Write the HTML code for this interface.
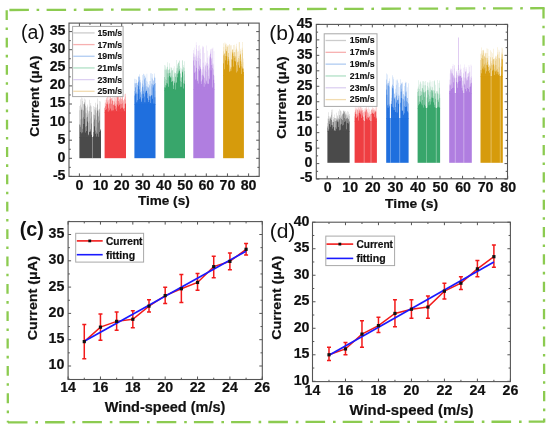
<!DOCTYPE html>
<html><head><meta charset="utf-8"><style>
html,body{margin:0;padding:0;background:#fff;}
body{width:550px;height:428px;overflow:hidden;}
svg{display:block;font-family:"Liberation Sans", sans-serif;will-change:transform;filter:blur(0.3px);}
</style></head><body>
<svg width="550" height="428" viewBox="0 0 550 428" fill="#111">
<defs></defs>
<rect width="550" height="428" fill="#fff"/>
<line x1="9.1" y1="10.0" x2="544.6" y2="8.2" stroke="#8ccb50" stroke-width="2.3" stroke-dasharray="19.5 7.7 2.6 7.4" stroke-dashoffset="-0.3"/>
<line x1="543.5" y1="8.2" x2="544.2" y2="422.6" stroke="#8ccb50" stroke-width="2.3" stroke-dasharray="10.2 7.3 2.6 7.25"/>
<line x1="6.7" y1="10.3" x2="7.9" y2="422.6" stroke="#8ccb50" stroke-width="2.3" stroke-dasharray="9.8 7.4 2.6 7.56"/>
<line x1="7.9" y1="422.3" x2="544.2" y2="421.7" stroke="#8ccb50" stroke-width="2.3" stroke-dasharray="19.6 7.9 2.6 7.1"/>
<rect x="79.4" y="137" width="21.6" height="21.2" fill="#4a4a4a"/>
<path d="M79.4 124.51h0.33V105.97h-0.33ZM79.73 124.16h0.33V110.27h-0.33ZM80.06 124.84h0.33V99.2h-0.33ZM80.4 126.75h0.33V104.78h-0.33ZM80.73 131.95h0.33V119.24h-0.33ZM81.06 108.52h0.33V97.6h-0.33ZM81.39 109.92h0.33V106.67h-0.33ZM81.73 133.14h0.33V118.72h-0.33ZM82.06 118.4h0.33V100.91h-0.33ZM82.39 128.63h0.33V109.42h-0.33ZM82.72 132.3h0.33V98.32h-0.33ZM83.06 110.84h0.33V104.07h-0.33ZM83.39 117.13h0.33V109.86h-0.33ZM83.72 124.12h0.33V104.28h-0.33ZM84.05 104.37h0.33V102.15h-0.33ZM84.38 102.61h0.33V98.47h-0.33ZM84.72 119.06h0.33V113.65h-0.33ZM85.05 105.69h0.33V99.4h-0.33ZM85.38 132.58h0.33V112.39h-0.33ZM85.71 126.7h0.33V108.29h-0.33ZM86.05 117.47h0.33V113.35h-0.33ZM86.38 131.08h0.33V107.6h-0.33ZM87.04 116.98h0.33V104.42h-0.33ZM87.38 121.58h0.33V115.39h-0.33ZM87.71 110.13h0.33V106.58h-0.33ZM88.04 134.28h0.33V111.5h-0.33ZM88.7 122.75h0.33V113.45h-0.33ZM89.04 131.8h0.33V121.34h-0.33ZM89.37 131.81h0.33V99.86h-0.33ZM89.7 110.92h0.33V106.66h-0.33ZM90.37 129.33h0.33V118.52h-0.33ZM90.7 105.51h0.33V103.05h-0.33ZM91.03 134.77h0.33V111.65h-0.33ZM91.36 112.08h0.33V106.54h-0.33ZM91.7 123.4h0.33V116.45h-0.33ZM93.02 136.23h0.33V121.81h-0.33ZM93.69 114.46h0.33V105.92h-0.33ZM94.02 126.23h0.33V118.09h-0.33ZM94.35 115h0.33V109.37h-0.33ZM94.69 119.41h0.33V106.91h-0.33ZM95.02 133.8h0.33V102.83h-0.33ZM95.35 130.39h0.33V115.42h-0.33ZM95.68 110.13h0.33V107.4h-0.33ZM96.02 136.39h0.33V127.42h-0.33ZM96.35 119.82h0.33V107.47h-0.33ZM96.68 132.6h0.33V112.76h-0.33ZM97.01 109.74h0.33V104.81h-0.33ZM97.34 133.69h0.33V103.66h-0.33ZM97.68 110.79h0.33V98.38h-0.33ZM98.01 116.81h0.33V109.59h-0.33ZM98.34 136.65h0.33V115.85h-0.33ZM98.67 122.54h0.33V110.68h-0.33ZM99.01 132.03h0.33V100.98h-0.33ZM99.34 120.49h0.33V108.64h-0.33ZM99.67 112.62h0.33V109.4h-0.33ZM100.67 129.28h0.33V101.45h-0.33Z" fill="#4a4a4a" opacity="0.4"/>
<path d="M79.4 137.5h0.33V124.51h-0.33ZM79.73 137.5h0.33V124.16h-0.33ZM80.06 137.5h0.33V124.84h-0.33ZM80.4 137.5h0.33V126.75h-0.33ZM80.73 137.5h0.33V131.95h-0.33ZM81.06 137.5h0.33V108.52h-0.33ZM81.39 137.5h0.33V109.92h-0.33ZM81.73 137.5h0.33V133.14h-0.33ZM82.06 137.5h0.33V118.4h-0.33ZM82.39 137.5h0.33V128.63h-0.33ZM82.72 137.5h0.33V132.3h-0.33ZM83.06 137.5h0.33V110.84h-0.33ZM83.39 137.5h0.33V117.13h-0.33ZM83.72 137.5h0.33V124.12h-0.33ZM84.05 137.5h0.33V104.37h-0.33ZM84.38 137.5h0.33V102.61h-0.33ZM84.72 137.5h0.33V119.06h-0.33ZM85.05 137.5h0.33V105.69h-0.33ZM85.38 137.5h0.33V132.58h-0.33ZM85.71 137.5h0.33V126.7h-0.33ZM86.05 137.5h0.33V117.47h-0.33ZM86.38 137.5h0.33V131.08h-0.33ZM86.71 137.5h0.33V125.9h-0.33ZM87.04 137.5h0.33V116.98h-0.33ZM87.38 137.5h0.33V121.58h-0.33ZM87.71 137.5h0.33V110.13h-0.33ZM88.04 137.5h0.33V134.28h-0.33ZM88.37 137.5h0.33V135.24h-0.33ZM88.7 137.5h0.33V122.75h-0.33ZM89.04 137.5h0.33V131.8h-0.33ZM89.37 137.5h0.33V131.81h-0.33ZM89.7 137.5h0.33V110.92h-0.33ZM90.03 137.5h0.33V131.52h-0.33ZM90.37 137.5h0.33V129.33h-0.33ZM90.7 137.5h0.33V105.51h-0.33ZM91.03 137.5h0.33V134.77h-0.33ZM91.36 137.5h0.33V112.08h-0.33ZM91.7 137.5h0.33V123.4h-0.33ZM93.02 137.5h0.33V136.23h-0.33ZM93.36 137.5h0.33V131.93h-0.33ZM93.69 137.5h0.33V114.46h-0.33ZM94.02 137.5h0.33V126.23h-0.33ZM94.35 137.5h0.33V115h-0.33ZM94.69 137.5h0.33V119.41h-0.33ZM95.02 137.5h0.33V133.8h-0.33ZM95.35 137.5h0.33V130.39h-0.33ZM95.68 137.5h0.33V110.13h-0.33ZM96.02 137.5h0.33V136.39h-0.33ZM96.35 137.5h0.33V119.82h-0.33ZM96.68 137.5h0.33V132.6h-0.33ZM97.01 137.5h0.33V109.74h-0.33ZM97.34 137.5h0.33V133.69h-0.33ZM97.68 137.5h0.33V110.79h-0.33ZM98.01 137.5h0.33V116.81h-0.33ZM98.34 137.5h0.33V136.65h-0.33ZM98.67 137.5h0.33V122.54h-0.33ZM99.01 137.5h0.33V132.03h-0.33ZM99.34 137.5h0.33V120.49h-0.33ZM99.67 137.5h0.33V112.62h-0.33ZM100 137.5h0.33V129.56h-0.33ZM100.34 137.5h0.33V130.75h-0.33ZM100.67 137.5h0.33V129.28h-0.33Z" fill="#4a4a4a"/>
<line x1="92.5" y1="131" x2="92.5" y2="158.2" stroke="#fff" stroke-width="0.7" opacity="0.5"/>
<rect x="104.6" y="112" width="21.4" height="46.2" fill="#ef3e42"/>
<path d="M104.93 102.88h0.33V99.84h-0.33ZM105.27 106.3h0.33V102.32h-0.33ZM105.6 109.96h0.33V105.99h-0.33ZM105.94 104.12h0.33V99.89h-0.33ZM106.27 103.5h0.33V98.6h-0.33ZM106.61 109.19h0.33V98.04h-0.33ZM106.94 96.92h0.33V95.01h-0.33ZM107.27 104.21h0.33V101.77h-0.33ZM107.61 102.47h0.33V100.35h-0.33ZM107.94 111.61h0.33V106.74h-0.33ZM108.28 108.34h0.33V104.31h-0.33ZM108.61 100.23h0.33V95.12h-0.33ZM109.28 99.16h0.33V94.49h-0.33ZM109.62 110.25h0.33V103.63h-0.33ZM109.95 98.72h0.33V97.15h-0.33ZM110.28 99.32h0.33V93.73h-0.33ZM110.62 108.43h0.33V96.81h-0.33ZM111.62 110.4h0.33V98.3h-0.33ZM111.96 110.62h0.33V95.74h-0.33ZM112.29 100.27h0.33V98h-0.33ZM112.96 110.24h0.33V94.39h-0.33ZM113.63 104.84h0.33V101.08h-0.33ZM113.96 103.99h0.33V97.83h-0.33ZM114.3 101.24h0.33V95.26h-0.33ZM114.63 105.51h0.33V101.69h-0.33ZM114.97 109.35h0.33V103.1h-0.33ZM115.3 105.53h0.33V96.8h-0.33ZM115.63 105.97h0.33V98.62h-0.33ZM115.97 104.31h0.33V96.38h-0.33ZM116.3 107.57h0.33V100.64h-0.33ZM116.64 110.97h0.33V92.16h-0.33ZM116.97 104.48h0.33V100.59h-0.33ZM117.31 97.23h0.33V94.85h-0.33ZM117.64 96.02h0.33V94.37h-0.33ZM117.98 106.15h0.33V102.71h-0.33ZM118.31 96.91h0.33V93.67h-0.33ZM118.64 100.96h0.33V92.25h-0.33ZM118.98 104.96h0.33V101.79h-0.33ZM119.31 103.48h0.33V100.12h-0.33ZM119.65 98.92h0.33V96.91h-0.33ZM119.98 108.7h0.33V99.35h-0.33ZM120.32 98.07h0.33V96.82h-0.33ZM120.65 103.75h0.33V93.12h-0.33ZM120.98 107.65h0.33V93.21h-0.33ZM121.65 104.03h0.33V101.27h-0.33ZM121.99 103.37h0.33V92.09h-0.33ZM122.32 98.46h0.33V96.92h-0.33ZM122.66 107.45h0.33V92.25h-0.33ZM122.99 108.2h0.33V101.82h-0.33ZM123.99 111.08h0.33V94.28h-0.33ZM124.33 108.05h0.33V103.98h-0.33ZM125 99.76h0.33V93.95h-0.33ZM125.33 103.48h0.33V93.44h-0.33ZM125.67 103.41h0.33V96.41h-0.33Z" fill="#ef3e42" opacity="0.4"/>
<path d="M104.6 112.5h0.33V107.87h-0.33ZM104.93 112.5h0.33V102.88h-0.33ZM105.27 112.5h0.33V106.3h-0.33ZM105.6 112.5h0.33V109.96h-0.33ZM105.94 112.5h0.33V104.12h-0.33ZM106.27 112.5h0.33V103.5h-0.33ZM106.61 112.5h0.33V109.19h-0.33ZM106.94 112.5h0.33V96.92h-0.33ZM107.27 112.5h0.33V104.21h-0.33ZM107.61 112.5h0.33V102.47h-0.33ZM107.94 112.5h0.33V111.61h-0.33ZM108.28 112.5h0.33V108.34h-0.33ZM108.61 112.5h0.33V100.23h-0.33ZM108.95 112.5h0.33V103.38h-0.33ZM109.28 112.5h0.33V99.16h-0.33ZM109.62 112.5h0.33V110.25h-0.33ZM109.95 112.5h0.33V98.72h-0.33ZM110.28 112.5h0.33V99.32h-0.33ZM110.62 112.5h0.33V108.43h-0.33ZM110.95 112.5h0.33V103.75h-0.33ZM111.29 112.5h0.33V98.2h-0.33ZM111.62 112.5h0.33V110.4h-0.33ZM111.96 112.5h0.33V110.62h-0.33ZM112.29 112.5h0.33V100.27h-0.33ZM112.62 112.5h0.33V100.69h-0.33ZM112.96 112.5h0.33V110.24h-0.33ZM113.29 112.5h0.33V104.73h-0.33ZM113.63 112.5h0.33V104.84h-0.33ZM113.96 112.5h0.33V103.99h-0.33ZM114.3 112.5h0.33V101.24h-0.33ZM114.63 112.5h0.33V105.51h-0.33ZM114.97 112.5h0.33V109.35h-0.33ZM115.3 112.5h0.33V105.53h-0.33ZM115.63 112.5h0.33V105.97h-0.33ZM115.97 112.5h0.33V104.31h-0.33ZM116.3 112.5h0.33V107.57h-0.33ZM116.64 112.5h0.33V110.97h-0.33ZM116.97 112.5h0.33V104.48h-0.33ZM117.31 112.5h0.33V97.23h-0.33ZM117.64 112.5h0.33V96.02h-0.33ZM117.98 112.5h0.33V106.15h-0.33ZM118.31 112.5h0.33V96.91h-0.33ZM118.64 112.5h0.33V100.96h-0.33ZM118.98 112.5h0.33V104.96h-0.33ZM119.31 112.5h0.33V103.48h-0.33ZM119.65 112.5h0.33V98.92h-0.33ZM119.98 112.5h0.33V108.7h-0.33ZM120.32 112.5h0.33V98.07h-0.33ZM120.65 112.5h0.33V103.75h-0.33ZM120.98 112.5h0.33V107.65h-0.33ZM121.32 112.5h0.33V98.97h-0.33ZM121.65 112.5h0.33V104.03h-0.33ZM121.99 112.5h0.33V103.37h-0.33ZM122.32 112.5h0.33V98.46h-0.33ZM122.66 112.5h0.33V107.45h-0.33ZM122.99 112.5h0.33V108.2h-0.33ZM123.33 112.5h0.33V109.15h-0.33ZM123.66 112.5h0.33V100.16h-0.33ZM123.99 112.5h0.33V111.08h-0.33ZM124.33 112.5h0.33V108.05h-0.33ZM124.66 112.5h0.33V98.63h-0.33ZM125 112.5h0.33V99.76h-0.33ZM125.33 112.5h0.33V103.48h-0.33ZM125.67 112.5h0.33V103.41h-0.33Z" fill="#ef3e42"/>
<rect x="134.4" y="104" width="21.1" height="54.2" fill="#1f6fde"/>
<path d="M134.4 90.89h0.33V78.7h-0.33ZM134.73 95.44h0.33V83.3h-0.33ZM135.07 93.44h0.33V83.23h-0.33ZM135.4 87.3h0.33V83.21h-0.33ZM135.74 87.2h0.33V78.96h-0.33ZM136.07 93.52h0.33V83.07h-0.33ZM136.41 91.95h0.33V79.84h-0.33ZM136.74 102.27h0.33V83.07h-0.33ZM137.08 89.26h0.33V82.74h-0.33ZM137.41 100.21h0.33V84.93h-0.33ZM137.75 93.81h0.33V84.78h-0.33ZM138.08 82.29h0.33V76.63h-0.33ZM138.42 81.24h0.33V76.33h-0.33ZM138.75 86.28h0.33V76.82h-0.33ZM139.09 80.26h0.33V76.54h-0.33ZM139.42 89.2h0.33V74.19h-0.33ZM139.76 98.91h0.33V77.25h-0.33ZM140.09 92.3h0.33V79.69h-0.33ZM140.43 97.3h0.33V81.95h-0.33ZM140.76 92.28h0.33V83.3h-0.33ZM141.1 101.92h0.33V94.79h-0.33ZM141.43 100.52h0.33V91.07h-0.33ZM141.77 93.88h0.33V88.34h-0.33ZM142.1 86.86h0.33V80.57h-0.33ZM142.44 83.42h0.33V74.89h-0.33ZM142.77 98.26h0.33V91.79h-0.33ZM143.11 93.67h0.33V73.8h-0.33ZM143.44 90.77h0.33V85.15h-0.33ZM143.78 87.36h0.33V74.32h-0.33ZM144.11 78.76h0.33V76.1h-0.33ZM144.45 96.44h0.33V80.12h-0.33ZM144.78 102.26h0.33V74.74h-0.33ZM145.12 92.42h0.33V83.34h-0.33ZM145.45 77.93h0.33V76.75h-0.33ZM145.79 90.94h0.33V86.61h-0.33ZM146.12 89.46h0.33V80.71h-0.33ZM146.79 85.95h0.33V73.63h-0.33ZM147.13 93.32h0.33V81.73h-0.33ZM148.13 102.09h0.33V95.48h-0.33ZM148.47 87.61h0.33V83.99h-0.33ZM149.14 85.35h0.33V80.94h-0.33ZM149.81 94.18h0.33V89.34h-0.33ZM150.14 96.56h0.33V80.98h-0.33ZM150.48 102.91h0.33V73.22h-0.33ZM151.15 83.4h0.33V73.35h-0.33ZM151.48 95.11h0.33V86.37h-0.33ZM151.82 95.3h0.33V77.76h-0.33ZM152.15 98.74h0.33V78.75h-0.33ZM152.49 84.25h0.33V74.12h-0.33ZM152.82 87.54h0.33V84.34h-0.33ZM153.83 103.45h0.33V94.87h-0.33ZM154.16 84.08h0.33V76.79h-0.33ZM154.5 78.02h0.33V73.46h-0.33ZM154.83 97.32h0.33V91.09h-0.33ZM155.17 82.95h0.33V77.83h-0.33Z" fill="#1f6fde" opacity="0.4"/>
<path d="M134.4 104.5h0.33V90.89h-0.33ZM134.73 104.5h0.33V95.44h-0.33ZM135.07 104.5h0.33V93.44h-0.33ZM135.4 104.5h0.33V87.3h-0.33ZM135.74 104.5h0.33V87.2h-0.33ZM136.07 104.5h0.33V93.52h-0.33ZM136.41 104.5h0.33V91.95h-0.33ZM136.74 104.5h0.33V102.27h-0.33ZM137.08 104.5h0.33V89.26h-0.33ZM137.41 104.5h0.33V100.21h-0.33ZM137.75 104.5h0.33V93.81h-0.33ZM138.08 104.5h0.33V82.29h-0.33ZM138.42 104.5h0.33V81.24h-0.33ZM138.75 104.5h0.33V86.28h-0.33ZM139.09 104.5h0.33V80.26h-0.33ZM139.42 104.5h0.33V89.2h-0.33ZM139.76 104.5h0.33V98.91h-0.33ZM140.09 104.5h0.33V92.3h-0.33ZM140.43 104.5h0.33V97.3h-0.33ZM140.76 104.5h0.33V92.28h-0.33ZM141.1 104.5h0.33V101.92h-0.33ZM141.43 104.5h0.33V100.52h-0.33ZM141.77 104.5h0.33V93.88h-0.33ZM142.1 104.5h0.33V86.86h-0.33ZM142.44 104.5h0.33V83.42h-0.33ZM142.77 104.5h0.33V98.26h-0.33ZM143.11 104.5h0.33V93.67h-0.33ZM143.44 104.5h0.33V90.77h-0.33ZM143.78 104.5h0.33V87.36h-0.33ZM144.11 104.5h0.33V78.76h-0.33ZM144.45 104.5h0.33V96.44h-0.33ZM144.78 104.5h0.33V102.26h-0.33ZM145.12 104.5h0.33V92.42h-0.33ZM145.45 104.5h0.33V77.93h-0.33ZM145.79 104.5h0.33V90.94h-0.33ZM146.12 104.5h0.33V89.46h-0.33ZM146.46 104.5h0.33V90.93h-0.33ZM146.79 104.5h0.33V85.95h-0.33ZM147.13 104.5h0.33V93.32h-0.33ZM147.46 104.5h0.33V98.17h-0.33ZM147.8 104.5h0.33V87.28h-0.33ZM148.13 104.5h0.33V102.09h-0.33ZM148.47 104.5h0.33V87.61h-0.33ZM148.8 104.5h0.33V100.03h-0.33ZM149.14 104.5h0.33V85.35h-0.33ZM149.47 104.5h0.33V96.34h-0.33ZM149.81 104.5h0.33V94.18h-0.33ZM150.14 104.5h0.33V96.56h-0.33ZM150.48 104.5h0.33V102.91h-0.33ZM150.81 104.5h0.33V95.91h-0.33ZM151.15 104.5h0.33V83.4h-0.33ZM151.48 104.5h0.33V95.11h-0.33ZM151.82 104.5h0.33V95.3h-0.33ZM152.15 104.5h0.33V98.74h-0.33ZM152.49 104.5h0.33V84.25h-0.33ZM152.82 104.5h0.33V87.54h-0.33ZM153.16 104.5h0.33V80.46h-0.33ZM153.49 104.5h0.33V85.33h-0.33ZM153.83 104.5h0.33V103.45h-0.33ZM154.16 104.5h0.33V84.08h-0.33ZM154.5 104.5h0.33V78.02h-0.33ZM154.83 104.5h0.33V97.32h-0.33ZM155.17 104.5h0.33V82.95h-0.33Z" fill="#1f6fde"/>
<rect x="164.2" y="90" width="20.8" height="68.2" fill="#38a66b"/>
<path d="M164.2 77.12h0.34V65.07h-0.34ZM164.54 87.37h0.34V80.96h-0.34ZM165.21 87.58h0.34V65.44h-0.34ZM165.54 84.89h0.34V79h-0.34ZM165.88 85.47h0.34V67.58h-0.34ZM166.21 80.04h0.34V69.09h-0.34ZM166.55 82.92h0.34V70.23h-0.34ZM166.88 73.14h0.34V69.19h-0.34ZM167.55 66.82h0.34V62.2h-0.34ZM167.89 77.22h0.34V70.02h-0.34ZM168.56 73.16h0.34V70.25h-0.34ZM169.23 72.97h0.34V68.74h-0.34ZM169.57 75.97h0.34V63.31h-0.34ZM169.9 73.1h0.34V67.37h-0.34ZM170.57 77.56h0.34V72.51h-0.34ZM170.91 77.42h0.34V70.67h-0.34ZM171.25 82.03h0.34V67.83h-0.34ZM171.58 75.57h0.34V67.56h-0.34ZM172.25 81.04h0.34V76.73h-0.34ZM172.92 80.62h0.34V68.23h-0.34ZM173.59 85.36h0.34V77.13h-0.34ZM173.93 81.76h0.34V66.24h-0.34ZM174.26 82.99h0.34V73.74h-0.34ZM174.6 81.04h0.34V72.25h-0.34ZM175.61 89.54h0.34V83.57h-0.34ZM175.94 83.02h0.34V68.15h-0.34ZM176.28 81.98h0.34V60.03h-0.34ZM176.61 74.28h0.34V71.28h-0.34ZM177.28 67.87h0.34V65.49h-0.34ZM177.62 77.36h0.34V64.06h-0.34ZM177.95 73.36h0.34V69.77h-0.34ZM178.29 71.49h0.34V63.5h-0.34ZM178.63 63.02h0.34V62.05h-0.34ZM178.96 69.74h0.34V60.79h-0.34ZM179.3 68.88h0.34V66.06h-0.34ZM179.63 71.05h0.34V60.62h-0.34ZM179.97 80.93h0.34V72.9h-0.34ZM180.3 86.72h0.34V77.62h-0.34ZM180.64 73.84h0.34V67.84h-0.34ZM180.97 81.99h0.34V77.05h-0.34ZM181.31 86.84h0.34V77.98h-0.34ZM181.65 77.33h0.34V68.61h-0.34ZM181.98 71.49h0.34V69.14h-0.34ZM182.32 72.28h0.34V60.36h-0.34ZM182.65 70.24h0.34V60.45h-0.34ZM182.99 67.27h0.34V65.01h-0.34ZM183.66 88.43h0.34V75.63h-0.34ZM183.99 80.39h0.34V74.13h-0.34ZM184.33 71.11h0.34V67.65h-0.34ZM184.66 83.64h0.34V61.23h-0.34Z" fill="#38a66b" opacity="0.4"/>
<path d="M164.2 90.5h0.34V77.12h-0.34ZM164.54 90.5h0.34V87.37h-0.34ZM164.87 90.5h0.34V69.82h-0.34ZM165.21 90.5h0.34V87.58h-0.34ZM165.54 90.5h0.34V84.89h-0.34ZM165.88 90.5h0.34V85.47h-0.34ZM166.21 90.5h0.34V80.04h-0.34ZM166.55 90.5h0.34V82.92h-0.34ZM166.88 90.5h0.34V73.14h-0.34ZM167.22 90.5h0.34V83.59h-0.34ZM167.55 90.5h0.34V66.82h-0.34ZM167.89 90.5h0.34V77.22h-0.34ZM168.23 90.5h0.34V86.87h-0.34ZM168.56 90.5h0.34V73.16h-0.34ZM168.9 90.5h0.34V69.59h-0.34ZM169.23 90.5h0.34V72.97h-0.34ZM169.57 90.5h0.34V75.97h-0.34ZM169.9 90.5h0.34V73.1h-0.34ZM170.24 90.5h0.34V76.66h-0.34ZM170.57 90.5h0.34V77.56h-0.34ZM170.91 90.5h0.34V77.42h-0.34ZM171.25 90.5h0.34V82.03h-0.34ZM171.58 90.5h0.34V75.57h-0.34ZM171.92 90.5h0.34V81.51h-0.34ZM172.25 90.5h0.34V81.04h-0.34ZM172.59 90.5h0.34V70.37h-0.34ZM172.92 90.5h0.34V80.62h-0.34ZM173.26 90.5h0.34V89.01h-0.34ZM173.59 90.5h0.34V85.36h-0.34ZM173.93 90.5h0.34V81.76h-0.34ZM174.26 90.5h0.34V82.99h-0.34ZM174.6 90.5h0.34V81.04h-0.34ZM174.94 90.5h0.34V73.09h-0.34ZM175.27 90.5h0.34V76.66h-0.34ZM175.61 90.5h0.34V89.54h-0.34ZM175.94 90.5h0.34V83.02h-0.34ZM176.28 90.5h0.34V81.98h-0.34ZM176.61 90.5h0.34V74.28h-0.34ZM176.95 90.5h0.34V73.84h-0.34ZM177.28 90.5h0.34V67.87h-0.34ZM177.62 90.5h0.34V77.36h-0.34ZM177.95 90.5h0.34V73.36h-0.34ZM178.29 90.5h0.34V71.49h-0.34ZM178.63 90.5h0.34V63.02h-0.34ZM178.96 90.5h0.34V69.74h-0.34ZM179.3 90.5h0.34V68.88h-0.34ZM179.63 90.5h0.34V71.05h-0.34ZM179.97 90.5h0.34V80.93h-0.34ZM180.3 90.5h0.34V86.72h-0.34ZM180.64 90.5h0.34V73.84h-0.34ZM180.97 90.5h0.34V81.99h-0.34ZM181.31 90.5h0.34V86.84h-0.34ZM181.65 90.5h0.34V77.33h-0.34ZM181.98 90.5h0.34V71.49h-0.34ZM182.32 90.5h0.34V72.28h-0.34ZM182.65 90.5h0.34V70.24h-0.34ZM182.99 90.5h0.34V67.27h-0.34ZM183.32 90.5h0.34V83.29h-0.34ZM183.66 90.5h0.34V88.43h-0.34ZM183.99 90.5h0.34V80.39h-0.34ZM184.33 90.5h0.34V71.11h-0.34ZM184.66 90.5h0.34V83.64h-0.34Z" fill="#38a66b"/>
<rect x="193.3" y="89.5" width="21.2" height="68.7" fill="#b07ee0"/>
<path d="M193.3 53.32h0.33V49.94h-0.33ZM193.63 60.5h0.33V56.69h-0.33ZM193.96 57.03h0.33V47.45h-0.33ZM194.62 72.74h0.33V54.46h-0.33ZM194.96 71.74h0.33V56.41h-0.33ZM195.29 79.55h0.33V71.09h-0.33ZM195.62 59.84h0.33V54.49h-0.33ZM195.95 56.56h0.33V42.31h-0.33ZM196.28 60.93h0.33V49.04h-0.33ZM196.61 67.83h0.33V44.9h-0.33ZM196.94 78.97h0.33V71.42h-0.33ZM197.28 80.52h0.33V57.88h-0.33ZM197.61 80.84h0.33V50.71h-0.33ZM197.94 83.54h0.33V55.47h-0.33ZM198.27 68.96h0.33V50.89h-0.33ZM198.6 60.96h0.33V45.77h-0.33ZM198.93 58.12h0.33V50.46h-0.33ZM199.26 65.85h0.33V45.18h-0.33ZM199.59 70.58h0.33V64.44h-0.33ZM199.93 66.88h0.33V53.01h-0.33ZM200.59 59h0.33V48.64h-0.33ZM200.92 81.44h0.33V71.53h-0.33ZM201.25 80.65h0.33V69.49h-0.33ZM201.58 83.95h0.33V75.44h-0.33ZM201.91 79.47h0.33V68.96h-0.33ZM202.24 72.56h0.33V47.53h-0.33ZM202.57 74.85h0.33V45.67h-0.33ZM202.91 74.81h0.33V62.79h-0.33ZM203.24 66.7h0.33V46.59h-0.33ZM203.57 76.3h0.33V47.18h-0.33ZM203.9 86.7h0.33V68.65h-0.33ZM204.56 82.86h0.33V53.09h-0.33ZM204.89 70.53h0.33V65.25h-0.33ZM205.22 84.31h0.33V65.38h-0.33ZM205.56 66.42h0.33V61.71h-0.33ZM205.89 79.75h0.33V64.45h-0.33ZM206.22 63.19h0.33V45.44h-0.33ZM206.55 81.25h0.33V72.06h-0.33ZM207.21 62.63h0.33V57.72h-0.33ZM207.54 65.64h0.33V50.82h-0.33ZM207.88 83.8h0.33V75.85h-0.33ZM208.21 83.87h0.33V76.11h-0.33ZM208.54 69.47h0.33V64.24h-0.33ZM208.87 78.37h0.33V56.06h-0.33ZM209.2 67.76h0.33V58.42h-0.33ZM209.53 79.21h0.33V55.15h-0.33ZM210.19 52.54h0.33V49.05h-0.33ZM210.53 54.1h0.33V50.44h-0.33ZM210.86 70.24h0.33V59.37h-0.33ZM211.19 65.12h0.33V61.09h-0.33ZM211.52 58.38h0.33V48.91h-0.33ZM211.85 57.73h0.33V48.36h-0.33ZM212.18 67.88h0.33V63.39h-0.33ZM212.51 87.5h0.33V48.77h-0.33ZM212.84 65.3h0.33V47.41h-0.33ZM213.51 69.57h0.33V63.8h-0.33ZM213.84 79.75h0.33V50.97h-0.33ZM214.17 83.02h0.33V75.69h-0.33Z" fill="#b07ee0" opacity="0.4"/>
<path d="M193.3 90h0.33V53.32h-0.33ZM193.63 90h0.33V60.5h-0.33ZM193.96 90h0.33V57.03h-0.33ZM194.29 90h0.33V65.5h-0.33ZM194.62 90h0.33V72.74h-0.33ZM194.96 90h0.33V71.74h-0.33ZM195.29 90h0.33V79.55h-0.33ZM195.62 90h0.33V59.84h-0.33ZM195.95 90h0.33V56.56h-0.33ZM196.28 90h0.33V60.93h-0.33ZM196.61 90h0.33V67.83h-0.33ZM196.94 90h0.33V78.97h-0.33ZM197.28 90h0.33V80.52h-0.33ZM197.61 90h0.33V80.84h-0.33ZM197.94 90h0.33V83.54h-0.33ZM198.27 90h0.33V68.96h-0.33ZM198.6 90h0.33V60.96h-0.33ZM198.93 90h0.33V58.12h-0.33ZM199.26 90h0.33V65.85h-0.33ZM199.59 90h0.33V70.58h-0.33ZM199.93 90h0.33V66.88h-0.33ZM200.26 90h0.33V68.67h-0.33ZM200.59 90h0.33V59h-0.33ZM200.92 90h0.33V81.44h-0.33ZM201.25 90h0.33V80.65h-0.33ZM201.58 90h0.33V83.95h-0.33ZM201.91 90h0.33V79.47h-0.33ZM202.24 90h0.33V72.56h-0.33ZM202.57 90h0.33V74.85h-0.33ZM202.91 90h0.33V74.81h-0.33ZM203.24 90h0.33V66.7h-0.33ZM203.57 90h0.33V76.3h-0.33ZM203.9 90h0.33V86.7h-0.33ZM204.23 90h0.33V77.74h-0.33ZM204.56 90h0.33V82.86h-0.33ZM204.89 90h0.33V70.53h-0.33ZM205.22 90h0.33V84.31h-0.33ZM205.56 90h0.33V66.42h-0.33ZM205.89 90h0.33V79.75h-0.33ZM206.22 90h0.33V63.19h-0.33ZM206.55 90h0.33V81.25h-0.33ZM206.88 90h0.33V83.6h-0.33ZM207.21 90h0.33V62.63h-0.33ZM207.54 90h0.33V65.64h-0.33ZM207.88 90h0.33V83.8h-0.33ZM208.21 90h0.33V83.87h-0.33ZM208.54 90h0.33V69.47h-0.33ZM208.87 90h0.33V78.37h-0.33ZM209.2 90h0.33V67.76h-0.33ZM209.53 90h0.33V79.21h-0.33ZM209.86 90h0.33V57.18h-0.33ZM210.19 90h0.33V52.54h-0.33ZM210.53 90h0.33V54.1h-0.33ZM210.86 90h0.33V70.24h-0.33ZM211.19 90h0.33V65.12h-0.33ZM211.52 90h0.33V58.38h-0.33ZM211.85 90h0.33V57.73h-0.33ZM212.18 90h0.33V67.88h-0.33ZM212.51 90h0.33V87.5h-0.33ZM212.84 90h0.33V65.3h-0.33ZM213.17 90h0.33V74.84h-0.33ZM213.51 90h0.33V69.57h-0.33ZM213.84 90h0.33V79.75h-0.33ZM214.17 90h0.33V83.02h-0.33Z" fill="#b07ee0"/>
<rect x="223.1" y="75" width="20.8" height="83.2" fill="#d69b0c"/>
<path d="M223.1 63.37h0.34V43.23h-0.34ZM223.44 54.4h0.34V51.26h-0.34ZM223.77 55.6h0.34V47.05h-0.34ZM224.11 69.31h0.34V58.6h-0.34ZM224.78 53.02h0.34V42.53h-0.34ZM225.11 60.3h0.34V43.52h-0.34ZM225.45 56.07h0.34V44.85h-0.34ZM226.12 51.01h0.34V46.41h-0.34ZM226.45 51.31h0.34V43.85h-0.34ZM227.13 47.05h0.34V45.86h-0.34ZM227.46 64.53h0.34V59.2h-0.34ZM227.8 60.99h0.34V44.92h-0.34ZM228.13 56.94h0.34V52.95h-0.34ZM228.47 53.03h0.34V45.39h-0.34ZM229.14 71.81h0.34V60.79h-0.34ZM229.47 65.22h0.34V44.12h-0.34ZM229.81 71.33h0.34V44.79h-0.34ZM230.48 66.82h0.34V45.43h-0.34ZM230.82 70.68h0.34V51.5h-0.34ZM231.15 67.31h0.34V59.41h-0.34ZM231.49 58.99h0.34V45.17h-0.34ZM231.82 59.71h0.34V55.22h-0.34ZM232.16 52.16h0.34V50.04h-0.34ZM232.83 53.58h0.34V49.24h-0.34ZM233.16 56.08h0.34V45.06h-0.34ZM233.5 66.44h0.34V58.65h-0.34ZM234.17 57.71h0.34V51.97h-0.34ZM234.51 55.64h0.34V44.65h-0.34ZM234.84 60.97h0.34V52.21h-0.34ZM235.18 55.68h0.34V49.64h-0.34ZM235.51 61.55h0.34V57.56h-0.34ZM235.85 56.83h0.34V46.59h-0.34ZM236.18 65.14h0.34V48.61h-0.34ZM236.52 72.49h0.34V43.87h-0.34ZM236.85 59.49h0.34V49.46h-0.34ZM237.53 71.25h0.34V51.74h-0.34ZM238.2 57.9h0.34V51.2h-0.34ZM238.53 65.37h0.34V60.15h-0.34ZM238.87 56.07h0.34V42.37h-0.34ZM239.2 67.99h0.34V58.76h-0.34ZM239.54 67.28h0.34V42.02h-0.34ZM239.87 61.03h0.34V54.43h-0.34ZM240.21 53.55h0.34V51.08h-0.34ZM240.55 54.49h0.34V48.67h-0.34ZM240.88 66.23h0.34V57.26h-0.34ZM241.22 63.98h0.34V59.44h-0.34ZM241.55 74.1h0.34V61.75h-0.34ZM241.89 49.67h0.34V47.65h-0.34ZM242.22 68.49h0.34V42.05h-0.34ZM242.56 66.54h0.34V53.33h-0.34ZM242.89 68.55h0.34V62.34h-0.34ZM243.23 72.1h0.34V58.5h-0.34Z" fill="#d69b0c" opacity="0.4"/>
<path d="M223.1 75.5h0.34V63.37h-0.34ZM223.44 75.5h0.34V54.4h-0.34ZM223.77 75.5h0.34V55.6h-0.34ZM224.11 75.5h0.34V69.31h-0.34ZM224.44 75.5h0.34V53.69h-0.34ZM224.78 75.5h0.34V53.02h-0.34ZM225.11 75.5h0.34V60.3h-0.34ZM225.45 75.5h0.34V56.07h-0.34ZM225.78 75.5h0.34V49.19h-0.34ZM226.12 75.5h0.34V51.01h-0.34ZM226.45 75.5h0.34V51.31h-0.34ZM226.79 75.5h0.34V56.22h-0.34ZM227.13 75.5h0.34V47.05h-0.34ZM227.46 75.5h0.34V64.53h-0.34ZM227.8 75.5h0.34V60.99h-0.34ZM228.13 75.5h0.34V56.94h-0.34ZM228.47 75.5h0.34V53.03h-0.34ZM228.8 75.5h0.34V59.18h-0.34ZM229.14 75.5h0.34V71.81h-0.34ZM229.47 75.5h0.34V65.22h-0.34ZM229.81 75.5h0.34V71.33h-0.34ZM230.15 75.5h0.34V68.68h-0.34ZM230.48 75.5h0.34V66.82h-0.34ZM230.82 75.5h0.34V70.68h-0.34ZM231.15 75.5h0.34V67.31h-0.34ZM231.49 75.5h0.34V58.99h-0.34ZM231.82 75.5h0.34V59.71h-0.34ZM232.16 75.5h0.34V52.16h-0.34ZM232.49 75.5h0.34V49.42h-0.34ZM232.83 75.5h0.34V53.58h-0.34ZM233.16 75.5h0.34V56.08h-0.34ZM233.5 75.5h0.34V66.44h-0.34ZM233.84 75.5h0.34V52.27h-0.34ZM234.17 75.5h0.34V57.71h-0.34ZM234.51 75.5h0.34V55.64h-0.34ZM234.84 75.5h0.34V60.97h-0.34ZM235.18 75.5h0.34V55.68h-0.34ZM235.51 75.5h0.34V61.55h-0.34ZM235.85 75.5h0.34V56.83h-0.34ZM236.18 75.5h0.34V65.14h-0.34ZM236.52 75.5h0.34V72.49h-0.34ZM236.85 75.5h0.34V59.49h-0.34ZM237.19 75.5h0.34V62.2h-0.34ZM237.53 75.5h0.34V71.25h-0.34ZM237.86 75.5h0.34V61.85h-0.34ZM238.2 75.5h0.34V57.9h-0.34ZM238.53 75.5h0.34V65.37h-0.34ZM238.87 75.5h0.34V56.07h-0.34ZM239.2 75.5h0.34V67.99h-0.34ZM239.54 75.5h0.34V67.28h-0.34ZM239.87 75.5h0.34V61.03h-0.34ZM240.21 75.5h0.34V53.55h-0.34ZM240.55 75.5h0.34V54.49h-0.34ZM240.88 75.5h0.34V66.23h-0.34ZM241.22 75.5h0.34V63.98h-0.34ZM241.55 75.5h0.34V74.1h-0.34ZM241.89 75.5h0.34V49.67h-0.34ZM242.22 75.5h0.34V68.49h-0.34ZM242.56 75.5h0.34V66.54h-0.34ZM242.89 75.5h0.34V68.55h-0.34ZM243.23 75.5h0.34V72.1h-0.34ZM243.56 75.5h0.34V68.46h-0.34Z" fill="#d69b0c"/>
<rect x="72.6" y="26.4" width="50.5" height="70.2" fill="#fff" stroke="#a8a8a8" stroke-width="1"/>
<line x1="73.2" y1="32.9" x2="94.6" y2="32.9" stroke="#cccccc" stroke-width="1.3"/>
<text transform="translate(97.4 36)" font-size="8.75" font-weight="bold" text-anchor="start" stroke="#111" stroke-width="0.12">15m/s</text>
<line x1="73.2" y1="44.58" x2="94.6" y2="44.58" stroke="#f7b0b0" stroke-width="1.3"/>
<text transform="translate(97.4 47.68)" font-size="8.75" font-weight="bold" text-anchor="start" stroke="#111" stroke-width="0.12">17m/s</text>
<line x1="73.2" y1="56.26" x2="94.6" y2="56.26" stroke="#b0ccf2" stroke-width="1.3"/>
<text transform="translate(97.4 59.36)" font-size="8.75" font-weight="bold" text-anchor="start" stroke="#111" stroke-width="0.12">19m/s</text>
<line x1="73.2" y1="67.94" x2="94.6" y2="67.94" stroke="#b0e0c6" stroke-width="1.3"/>
<text transform="translate(97.4 71.04)" font-size="8.75" font-weight="bold" text-anchor="start" stroke="#111" stroke-width="0.12">21m/s</text>
<line x1="73.2" y1="79.62" x2="94.6" y2="79.62" stroke="#ddd0f2" stroke-width="1.3"/>
<text transform="translate(97.4 82.72)" font-size="8.75" font-weight="bold" text-anchor="start" stroke="#111" stroke-width="0.12">23m/s</text>
<line x1="73.2" y1="91.3" x2="94.6" y2="91.3" stroke="#f2dcb0" stroke-width="1.3"/>
<text transform="translate(97.4 94.4)" font-size="8.75" font-weight="bold" text-anchor="start" stroke="#111" stroke-width="0.12">25m/s</text>
<rect x="69" y="23.1" width="190.2" height="153.3" fill="none" stroke="#555" stroke-width="1.1"/>
<path d="M79.4 176.4v-3M79.4 23.1v3M100.55 176.4v-3M100.55 23.1v3M121.7 176.4v-3M121.7 23.1v3M142.85 176.4v-3M142.85 23.1v3M164 176.4v-3M164 23.1v3M185.15 176.4v-3M185.15 23.1v3M206.3 176.4v-3M206.3 23.1v3M227.45 176.4v-3M227.45 23.1v3M248.6 176.4v-3M248.6 23.1v3M89.98 176.4v-1.8M89.98 23.1v1.8M111.12 176.4v-1.8M111.12 23.1v1.8M132.28 176.4v-1.8M132.28 23.1v1.8M153.43 176.4v-1.8M153.43 23.1v1.8M174.58 176.4v-1.8M174.58 23.1v1.8M195.73 176.4v-1.8M195.73 23.1v1.8M216.88 176.4v-1.8M216.88 23.1v1.8M238.03 176.4v-1.8M238.03 23.1v1.8M69 176.4h3M259.2 176.4h-3M69 158.3h3M259.2 158.3h-3M69 140.2h3M259.2 140.2h-3M69 122.1h3M259.2 122.1h-3M69 104h3M259.2 104h-3M69 85.9h3M259.2 85.9h-3M69 67.8h3M259.2 67.8h-3M69 49.7h3M259.2 49.7h-3M69 31.6h3M259.2 31.6h-3M69 167.35h1.8M259.2 167.35h-1.8M69 149.25h1.8M259.2 149.25h-1.8M69 131.15h1.8M259.2 131.15h-1.8M69 113.05h1.8M259.2 113.05h-1.8M69 94.95h1.8M259.2 94.95h-1.8M69 76.85h1.8M259.2 76.85h-1.8M69 58.75h1.8M259.2 58.75h-1.8M69 40.65h1.8M259.2 40.65h-1.8" stroke="#555" stroke-width="1" fill="none"/>
<text transform="translate(65.5 179.8)" font-size="14.2" font-weight="bold" text-anchor="end" stroke="#111" stroke-width="0.2">-5</text>
<text transform="translate(65.5 161.7)" font-size="14.2" font-weight="bold" text-anchor="end" stroke="#111" stroke-width="0.2">0</text>
<text transform="translate(65.5 143.6)" font-size="14.2" font-weight="bold" text-anchor="end" stroke="#111" stroke-width="0.2">5</text>
<text transform="translate(65.5 125.5)" font-size="14.2" font-weight="bold" text-anchor="end" stroke="#111" stroke-width="0.2">10</text>
<text transform="translate(65.5 107.4)" font-size="14.2" font-weight="bold" text-anchor="end" stroke="#111" stroke-width="0.2">15</text>
<text transform="translate(65.5 89.3)" font-size="14.2" font-weight="bold" text-anchor="end" stroke="#111" stroke-width="0.2">20</text>
<text transform="translate(65.5 71.2)" font-size="14.2" font-weight="bold" text-anchor="end" stroke="#111" stroke-width="0.2">25</text>
<text transform="translate(65.5 53.1)" font-size="14.2" font-weight="bold" text-anchor="end" stroke="#111" stroke-width="0.2">30</text>
<text transform="translate(65.5 35)" font-size="14.2" font-weight="bold" text-anchor="end" stroke="#111" stroke-width="0.2">35</text>
<text transform="translate(79.4 189.6)" font-size="14.2" font-weight="bold" text-anchor="middle" stroke="#111" stroke-width="0.2">0</text>
<text transform="translate(100.55 189.6)" font-size="14.2" font-weight="bold" text-anchor="middle" stroke="#111" stroke-width="0.2">10</text>
<text transform="translate(121.7 189.6)" font-size="14.2" font-weight="bold" text-anchor="middle" stroke="#111" stroke-width="0.2">20</text>
<text transform="translate(142.85 189.6)" font-size="14.2" font-weight="bold" text-anchor="middle" stroke="#111" stroke-width="0.2">30</text>
<text transform="translate(164 189.6)" font-size="14.2" font-weight="bold" text-anchor="middle" stroke="#111" stroke-width="0.2">40</text>
<text transform="translate(185.15 189.6)" font-size="14.2" font-weight="bold" text-anchor="middle" stroke="#111" stroke-width="0.2">50</text>
<text transform="translate(206.3 189.6)" font-size="14.2" font-weight="bold" text-anchor="middle" stroke="#111" stroke-width="0.2">60</text>
<text transform="translate(227.45 189.6)" font-size="14.2" font-weight="bold" text-anchor="middle" stroke="#111" stroke-width="0.2">70</text>
<text transform="translate(248.6 189.6)" font-size="14.2" font-weight="bold" text-anchor="middle" stroke="#111" stroke-width="0.2">80</text>
<text transform="translate(163.8 205.3)" font-size="13.4" font-weight="bold" text-anchor="middle" stroke="#111" stroke-width="0.2" textLength="51.8" lengthAdjust="spacingAndGlyphs">Time (s)</text>
<text transform="translate(39 96.25) rotate(-90)" font-size="12.6" font-weight="bold" text-anchor="middle" stroke="#111" stroke-width="0.2" textLength="81" lengthAdjust="spacingAndGlyphs">Current (μA)</text>
<text transform="translate(32.9 38.6)" font-size="19.5" font-weight="normal" text-anchor="middle">(a)</text>
<rect x="327.4" y="131" width="22.2" height="31.8" fill="#4a4a4a"/>
<path d="M327.4 127.49h0.33V123h-0.33ZM327.73 125.98h0.33V118.62h-0.33ZM328.06 130.63h0.33V120.91h-0.33ZM328.39 118.68h0.33V112.2h-0.33ZM328.73 129.21h0.33V115.99h-0.33ZM329.06 121.25h0.33V118.29h-0.33ZM329.72 119.62h0.33V116.59h-0.33ZM330.05 119.04h0.33V116.58h-0.33ZM330.38 126.79h0.33V116.94h-0.33ZM331.04 114.85h0.33V109.81h-0.33ZM331.71 124.88h0.33V112.37h-0.33ZM332.04 124.71h0.33V121.57h-0.33ZM332.37 125.28h0.33V121.99h-0.33ZM332.7 128.62h0.33V109.5h-0.33ZM333.03 119.29h0.33V116.98h-0.33ZM334.03 130.03h0.33V120.77h-0.33ZM334.36 118.08h0.33V114.48h-0.33ZM335.02 121.05h0.33V118.12h-0.33ZM335.35 130.75h0.33V121.07h-0.33ZM335.68 127.16h0.33V118.1h-0.33ZM336.01 128.79h0.33V124.35h-0.33ZM336.35 120.55h0.33V118.21h-0.33ZM336.68 119.25h0.33V112.8h-0.33ZM337.01 118.54h0.33V116.35h-0.33ZM337.67 120.26h0.33V115.22h-0.33ZM338 126.91h0.33V120.43h-0.33ZM338.33 121.75h0.33V119.12h-0.33ZM338.67 118.3h0.33V111.18h-0.33ZM339 130.22h0.33V120.15h-0.33ZM339.33 119.2h0.33V116.73h-0.33ZM339.66 114.94h0.33V109.32h-0.33ZM339.99 124.44h0.33V117.74h-0.33ZM340.32 129.79h0.33V110.84h-0.33ZM340.65 117.73h0.33V110.38h-0.33ZM340.99 119.11h0.33V116.62h-0.33ZM341.32 123.92h0.33V115.51h-0.33ZM341.65 118.67h0.33V111.39h-0.33ZM341.98 125.52h0.33V121.34h-0.33ZM342.31 120.06h0.33V113.7h-0.33ZM342.64 114.76h0.33V113.47h-0.33ZM342.97 113.64h0.33V111.24h-0.33ZM343.3 113.3h0.33V110.45h-0.33ZM343.64 124.64h0.33V110.63h-0.33ZM343.97 122.05h0.33V111.86h-0.33ZM344.3 111.68h0.33V110.75h-0.33ZM344.63 118.01h0.33V112.81h-0.33ZM344.96 114.21h0.33V111.11h-0.33ZM345.29 121.3h0.33V115.59h-0.33ZM345.62 119.35h0.33V113.39h-0.33ZM345.96 114.49h0.33V112.47h-0.33ZM346.62 129.32h0.33V122.77h-0.33ZM346.95 117.8h0.33V115.56h-0.33ZM347.28 123.03h0.33V120.16h-0.33ZM347.61 117.4h0.33V111.3h-0.33ZM347.94 118.75h0.33V114.79h-0.33ZM348.27 118.97h0.33V111.82h-0.33ZM348.61 123.53h0.33V120.32h-0.33ZM348.94 121.85h0.33V116.1h-0.33ZM349.27 120.64h0.33V113.89h-0.33Z" fill="#4a4a4a" opacity="0.4"/>
<path d="M327.4 131.5h0.33V127.49h-0.33ZM327.73 131.5h0.33V125.98h-0.33ZM328.06 131.5h0.33V130.63h-0.33ZM328.39 131.5h0.33V118.68h-0.33ZM328.73 131.5h0.33V129.21h-0.33ZM329.06 131.5h0.33V121.25h-0.33ZM329.39 131.5h0.33V123.9h-0.33ZM329.72 131.5h0.33V119.62h-0.33ZM330.05 131.5h0.33V119.04h-0.33ZM330.38 131.5h0.33V126.79h-0.33ZM330.71 131.5h0.33V117.89h-0.33ZM331.04 131.5h0.33V114.85h-0.33ZM331.38 131.5h0.33V120.1h-0.33ZM331.71 131.5h0.33V124.88h-0.33ZM332.04 131.5h0.33V124.71h-0.33ZM332.37 131.5h0.33V125.28h-0.33ZM332.7 131.5h0.33V128.62h-0.33ZM333.03 131.5h0.33V119.29h-0.33ZM333.36 131.5h0.33V122.1h-0.33ZM333.7 131.5h0.33V126.91h-0.33ZM334.03 131.5h0.33V130.03h-0.33ZM334.36 131.5h0.33V118.08h-0.33ZM334.69 131.5h0.33V130.74h-0.33ZM335.02 131.5h0.33V121.05h-0.33ZM335.35 131.5h0.33V130.75h-0.33ZM335.68 131.5h0.33V127.16h-0.33ZM336.01 131.5h0.33V128.79h-0.33ZM336.35 131.5h0.33V120.55h-0.33ZM336.68 131.5h0.33V119.25h-0.33ZM337.01 131.5h0.33V118.54h-0.33ZM337.34 131.5h0.33V121.79h-0.33ZM337.67 131.5h0.33V120.26h-0.33ZM338 131.5h0.33V126.91h-0.33ZM338.33 131.5h0.33V121.75h-0.33ZM338.67 131.5h0.33V118.3h-0.33ZM339 131.5h0.33V130.22h-0.33ZM339.33 131.5h0.33V119.2h-0.33ZM339.66 131.5h0.33V114.94h-0.33ZM339.99 131.5h0.33V124.44h-0.33ZM340.32 131.5h0.33V129.79h-0.33ZM340.65 131.5h0.33V117.73h-0.33ZM340.99 131.5h0.33V119.11h-0.33ZM341.32 131.5h0.33V123.92h-0.33ZM341.65 131.5h0.33V118.67h-0.33ZM341.98 131.5h0.33V125.52h-0.33ZM342.31 131.5h0.33V120.06h-0.33ZM342.64 131.5h0.33V114.76h-0.33ZM342.97 131.5h0.33V113.64h-0.33ZM343.3 131.5h0.33V113.3h-0.33ZM343.64 131.5h0.33V124.64h-0.33ZM343.97 131.5h0.33V122.05h-0.33ZM344.3 131.5h0.33V111.68h-0.33ZM344.63 131.5h0.33V118.01h-0.33ZM344.96 131.5h0.33V114.21h-0.33ZM345.29 131.5h0.33V121.3h-0.33ZM345.62 131.5h0.33V119.35h-0.33ZM345.96 131.5h0.33V114.49h-0.33ZM346.29 131.5h0.33V118.49h-0.33ZM346.62 131.5h0.33V129.32h-0.33ZM346.95 131.5h0.33V117.8h-0.33ZM347.28 131.5h0.33V123.03h-0.33ZM347.61 131.5h0.33V117.4h-0.33ZM347.94 131.5h0.33V118.75h-0.33ZM348.27 131.5h0.33V118.97h-0.33ZM348.61 131.5h0.33V123.53h-0.33ZM348.94 131.5h0.33V121.85h-0.33ZM349.27 131.5h0.33V120.64h-0.33Z" fill="#4a4a4a"/>
<rect x="354.6" y="121" width="22.3" height="41.8" fill="#ef3e42"/>
<path d="M354.6 116.34h0.33V112.39h-0.33ZM354.93 111.7h0.33V106.13h-0.33ZM355.27 109.99h0.33V108.54h-0.33ZM355.6 114.01h0.33V111.21h-0.33ZM355.93 117.5h0.33V113.54h-0.33ZM356.26 117.83h0.33V109.06h-0.33ZM356.6 113.88h0.33V107.82h-0.33ZM356.93 114.22h0.33V106.56h-0.33ZM357.26 116.5h0.33V109.54h-0.33ZM357.93 115.4h0.33V110.65h-0.33ZM358.26 120.58h0.33V107h-0.33ZM358.59 112.65h0.33V107.77h-0.33ZM358.93 110.88h0.33V109.04h-0.33ZM359.26 109.93h0.33V106.58h-0.33ZM359.59 112.84h0.33V109.47h-0.33ZM359.93 112.44h0.33V104.45h-0.33ZM360.26 111.04h0.33V109.63h-0.33ZM360.59 114.2h0.33V105.53h-0.33ZM360.92 111.35h0.33V104.49h-0.33ZM361.26 117.89h0.33V114.69h-0.33ZM361.59 109.45h0.33V108.35h-0.33ZM362.26 115.53h0.33V107.99h-0.33ZM362.59 113.35h0.33V110.88h-0.33ZM363.25 112.29h0.33V109.85h-0.33ZM364.59 111.53h0.33V108.57h-0.33ZM364.92 115.41h0.33V111.54h-0.33ZM365.25 110.73h0.33V109.23h-0.33ZM365.58 112.14h0.33V108h-0.33ZM365.92 110.08h0.33V104.5h-0.33ZM366.25 109.56h0.33V107.42h-0.33ZM366.58 118.57h0.33V109.32h-0.33ZM366.91 119.39h0.33V112.14h-0.33ZM367.25 116.95h0.33V113.25h-0.33ZM367.58 111.49h0.33V109.01h-0.33ZM367.91 117.7h0.33V114.96h-0.33ZM368.58 113.34h0.33V107.15h-0.33ZM368.91 116.8h0.33V112.03h-0.33ZM369.24 116.26h0.33V109.2h-0.33ZM369.58 119.88h0.33V116.49h-0.33ZM370.24 114.41h0.33V111.33h-0.33ZM371.24 114.09h0.33V109.66h-0.33ZM371.91 113.09h0.33V109.99h-0.33ZM372.24 113.34h0.33V104.94h-0.33ZM372.57 111.76h0.33V108.72h-0.33ZM372.91 110.42h0.33V108.37h-0.33ZM373.24 114.03h0.33V108.18h-0.33ZM373.57 113.74h0.33V109.88h-0.33ZM374.24 111.27h0.33V109.52h-0.33ZM374.57 116.63h0.33V109.61h-0.33ZM374.9 112.17h0.33V107.52h-0.33ZM375.24 111.31h0.33V109.71h-0.33ZM375.9 118.43h0.33V106.51h-0.33ZM376.23 117.83h0.33V111.57h-0.33ZM376.57 116.18h0.33V107.19h-0.33Z" fill="#ef3e42" opacity="0.4"/>
<path d="M354.6 121.5h0.33V116.34h-0.33ZM354.93 121.5h0.33V111.7h-0.33ZM355.27 121.5h0.33V109.99h-0.33ZM355.6 121.5h0.33V114.01h-0.33ZM355.93 121.5h0.33V117.5h-0.33ZM356.26 121.5h0.33V117.83h-0.33ZM356.6 121.5h0.33V113.88h-0.33ZM356.93 121.5h0.33V114.22h-0.33ZM357.26 121.5h0.33V116.5h-0.33ZM357.6 121.5h0.33V109.8h-0.33ZM357.93 121.5h0.33V115.4h-0.33ZM358.26 121.5h0.33V120.58h-0.33ZM358.59 121.5h0.33V112.65h-0.33ZM358.93 121.5h0.33V110.88h-0.33ZM359.26 121.5h0.33V109.93h-0.33ZM359.59 121.5h0.33V112.84h-0.33ZM359.93 121.5h0.33V112.44h-0.33ZM360.26 121.5h0.33V111.04h-0.33ZM360.59 121.5h0.33V114.2h-0.33ZM360.92 121.5h0.33V111.35h-0.33ZM361.26 121.5h0.33V117.89h-0.33ZM361.59 121.5h0.33V109.45h-0.33ZM361.92 121.5h0.33V109.9h-0.33ZM362.26 121.5h0.33V115.53h-0.33ZM362.59 121.5h0.33V113.35h-0.33ZM362.92 121.5h0.33V117.02h-0.33ZM363.25 121.5h0.33V112.29h-0.33ZM363.59 121.5h0.33V119.9h-0.33ZM364.59 121.5h0.33V111.53h-0.33ZM364.92 121.5h0.33V115.41h-0.33ZM365.25 121.5h0.33V110.73h-0.33ZM365.58 121.5h0.33V112.14h-0.33ZM365.92 121.5h0.33V110.08h-0.33ZM366.25 121.5h0.33V109.56h-0.33ZM366.58 121.5h0.33V118.57h-0.33ZM366.91 121.5h0.33V119.39h-0.33ZM367.25 121.5h0.33V116.95h-0.33ZM367.58 121.5h0.33V111.49h-0.33ZM367.91 121.5h0.33V117.7h-0.33ZM368.25 121.5h0.33V117.39h-0.33ZM368.58 121.5h0.33V113.34h-0.33ZM368.91 121.5h0.33V116.8h-0.33ZM369.24 121.5h0.33V116.26h-0.33ZM369.58 121.5h0.33V119.88h-0.33ZM369.91 121.5h0.33V114.17h-0.33ZM370.24 121.5h0.33V114.41h-0.33ZM371.24 121.5h0.33V114.09h-0.33ZM371.57 121.5h0.33V109.58h-0.33ZM371.91 121.5h0.33V113.09h-0.33ZM372.24 121.5h0.33V113.34h-0.33ZM372.57 121.5h0.33V111.76h-0.33ZM372.91 121.5h0.33V110.42h-0.33ZM373.24 121.5h0.33V114.03h-0.33ZM373.57 121.5h0.33V113.74h-0.33ZM373.9 121.5h0.33V112.77h-0.33ZM374.24 121.5h0.33V111.27h-0.33ZM374.57 121.5h0.33V116.63h-0.33ZM374.9 121.5h0.33V112.17h-0.33ZM375.24 121.5h0.33V111.31h-0.33ZM375.57 121.5h0.33V111.17h-0.33ZM375.9 121.5h0.33V118.43h-0.33ZM376.23 121.5h0.33V117.83h-0.33ZM376.57 121.5h0.33V116.18h-0.33Z" fill="#ef3e42"/>
<line x1="364.2" y1="115" x2="364.2" y2="162.8" stroke="#fff" stroke-width="0.7" opacity="0.5"/>
<line x1="371" y1="115" x2="371" y2="162.8" stroke="#fff" stroke-width="0.7" opacity="0.5"/>
<rect x="386.2" y="118" width="22.4" height="44.8" fill="#1f6fde"/>
<path d="M386.2 89.56h0.33V84.83h-0.33ZM386.53 79.62h0.33V73.5h-0.33ZM386.87 94.65h0.33V84h-0.33ZM387.2 85.48h0.33V74.49h-0.33ZM387.54 105.36h0.33V83h-0.33ZM387.87 107.81h0.33V97.22h-0.33ZM388.21 85.59h0.33V82.96h-0.33ZM388.54 83.31h0.33V81.21h-0.33ZM389.21 106.22h0.33V81.2h-0.33ZM389.54 86.48h0.33V78.48h-0.33ZM391.21 103.92h0.33V97.67h-0.33ZM391.55 101.05h0.33V86.51h-0.33ZM391.88 106.81h0.33V95.06h-0.33ZM392.22 87.76h0.33V85.14h-0.33ZM392.55 84.47h0.33V75.14h-0.33ZM392.89 88.41h0.33V77.16h-0.33ZM393.22 86.03h0.33V79.29h-0.33ZM393.56 107.59h0.33V90.42h-0.33ZM393.89 110.07h0.33V97.5h-0.33ZM394.22 98.83h0.33V94.12h-0.33ZM394.56 97.76h0.33V93.35h-0.33ZM395.23 111.96h0.33V88.66h-0.33ZM395.56 106.91h0.33V100.61h-0.33ZM395.9 92.43h0.33V80.3h-0.33ZM396.23 96.02h0.33V84.82h-0.33ZM396.56 102.5h0.33V95h-0.33ZM396.9 112.38h0.33V79.32h-0.33ZM397.57 99.45h0.33V80.42h-0.33ZM397.9 99.96h0.33V94.34h-0.33ZM398.24 98.21h0.33V82.74h-0.33ZM398.57 103.87h0.33V95.97h-0.33ZM398.9 95.56h0.33V87.08h-0.33ZM400.24 85.33h0.33V79.34h-0.33ZM400.58 102.81h0.33V91.78h-0.33ZM400.91 98.12h0.33V83.34h-0.33ZM401.24 88.69h0.33V83.22h-0.33ZM401.58 91.59h0.33V83.95h-0.33ZM401.91 110.45h0.33V82.1h-0.33ZM402.25 98.58h0.33V83.38h-0.33ZM402.92 94.03h0.33V91.1h-0.33ZM403.25 99.35h0.33V94.6h-0.33ZM403.59 114.86h0.33V101.63h-0.33ZM403.92 113.18h0.33V95.6h-0.33ZM404.25 100.77h0.33V85.91h-0.33ZM404.59 106.32h0.33V96.86h-0.33ZM404.92 96.08h0.33V83.13h-0.33ZM405.26 92.22h0.33V81.76h-0.33ZM405.59 107h0.33V83.01h-0.33ZM405.93 96.72h0.33V91.12h-0.33ZM406.26 100.85h0.33V92.14h-0.33ZM406.59 106.53h0.33V82.22h-0.33ZM406.93 102h0.33V87.15h-0.33ZM407.93 112.53h0.33V103.34h-0.33ZM408.27 103.42h0.33V83.23h-0.33Z" fill="#1f6fde" opacity="0.4"/>
<path d="M386.2 118.5h0.33V89.56h-0.33ZM386.53 118.5h0.33V79.62h-0.33ZM386.87 118.5h0.33V94.65h-0.33ZM387.2 118.5h0.33V85.48h-0.33ZM387.54 118.5h0.33V105.36h-0.33ZM387.87 118.5h0.33V107.81h-0.33ZM388.21 118.5h0.33V85.59h-0.33ZM388.54 118.5h0.33V83.31h-0.33ZM388.87 118.5h0.33V104.39h-0.33ZM389.21 118.5h0.33V106.22h-0.33ZM389.54 118.5h0.33V86.48h-0.33ZM390.88 118.5h0.33V103.68h-0.33ZM391.21 118.5h0.33V103.92h-0.33ZM391.55 118.5h0.33V101.05h-0.33ZM391.88 118.5h0.33V106.81h-0.33ZM392.22 118.5h0.33V87.76h-0.33ZM392.55 118.5h0.33V84.47h-0.33ZM392.89 118.5h0.33V88.41h-0.33ZM393.22 118.5h0.33V86.03h-0.33ZM393.56 118.5h0.33V107.59h-0.33ZM393.89 118.5h0.33V110.07h-0.33ZM394.22 118.5h0.33V98.83h-0.33ZM394.56 118.5h0.33V97.76h-0.33ZM394.89 118.5h0.33V97.33h-0.33ZM395.23 118.5h0.33V111.96h-0.33ZM395.56 118.5h0.33V106.91h-0.33ZM395.9 118.5h0.33V92.43h-0.33ZM396.23 118.5h0.33V96.02h-0.33ZM396.56 118.5h0.33V102.5h-0.33ZM396.9 118.5h0.33V112.38h-0.33ZM397.23 118.5h0.33V100.17h-0.33ZM397.57 118.5h0.33V99.45h-0.33ZM397.9 118.5h0.33V99.96h-0.33ZM398.24 118.5h0.33V98.21h-0.33ZM398.57 118.5h0.33V103.87h-0.33ZM398.9 118.5h0.33V95.56h-0.33ZM400.24 118.5h0.33V85.33h-0.33ZM400.58 118.5h0.33V102.81h-0.33ZM400.91 118.5h0.33V98.12h-0.33ZM401.24 118.5h0.33V88.69h-0.33ZM401.58 118.5h0.33V91.59h-0.33ZM401.91 118.5h0.33V110.45h-0.33ZM402.25 118.5h0.33V98.58h-0.33ZM402.58 118.5h0.33V110.74h-0.33ZM402.92 118.5h0.33V94.03h-0.33ZM403.25 118.5h0.33V99.35h-0.33ZM403.59 118.5h0.33V114.86h-0.33ZM403.92 118.5h0.33V113.18h-0.33ZM404.25 118.5h0.33V100.77h-0.33ZM404.59 118.5h0.33V106.32h-0.33ZM404.92 118.5h0.33V96.08h-0.33ZM405.26 118.5h0.33V92.22h-0.33ZM405.59 118.5h0.33V107h-0.33ZM405.93 118.5h0.33V96.72h-0.33ZM406.26 118.5h0.33V100.85h-0.33ZM406.59 118.5h0.33V106.53h-0.33ZM406.93 118.5h0.33V102h-0.33ZM407.26 118.5h0.33V97.97h-0.33ZM407.6 118.5h0.33V111.15h-0.33ZM407.93 118.5h0.33V112.53h-0.33ZM408.27 118.5h0.33V103.42h-0.33Z" fill="#1f6fde"/>
<line x1="390.4" y1="107" x2="390.4" y2="162.8" stroke="#fff" stroke-width="0.7" opacity="0.5"/>
<line x1="399.7" y1="107" x2="399.7" y2="162.8" stroke="#fff" stroke-width="0.7" opacity="0.5"/>
<rect x="417.6" y="108" width="22.5" height="54.8" fill="#38a66b"/>
<path d="M417.6 92.05h0.33V88.7h-0.33ZM417.93 95.66h0.33V86.53h-0.33ZM418.26 91h0.33V88.54h-0.33ZM418.59 105.21h0.33V80.26h-0.33ZM418.92 102.13h0.33V96.1h-0.33ZM419.25 101.02h0.33V89.09h-0.33ZM419.59 104.11h0.33V84.47h-0.33ZM419.92 95.42h0.33V82.34h-0.33ZM420.25 96.09h0.33V90.94h-0.33ZM420.58 101.64h0.33V81.4h-0.33ZM420.91 94.76h0.33V83.65h-0.33ZM421.24 95.02h0.33V90.81h-0.33ZM421.57 103.45h0.33V92.04h-0.33ZM421.9 105.29h0.33V88.11h-0.33ZM422.23 99.94h0.33V81.27h-0.33ZM422.89 91.83h0.33V85.25h-0.33ZM423.23 89.83h0.33V81.09h-0.33ZM423.56 107.53h0.33V94.59h-0.33ZM423.89 92.69h0.33V81.82h-0.33ZM424.22 104.82h0.33V92.03h-0.33ZM424.55 96.71h0.33V92.61h-0.33ZM425.21 106.24h0.33V92.36h-0.33ZM425.54 91.23h0.33V81.11h-0.33ZM426.86 97.6h0.33V90.39h-0.33ZM427.2 107.39h0.33V82.26h-0.33ZM427.53 89.96h0.33V86.01h-0.33ZM427.86 89.64h0.33V82.54h-0.33ZM428.19 102.24h0.33V87.47h-0.33ZM428.52 94.53h0.33V90.18h-0.33ZM428.85 105.32h0.33V91.63h-0.33ZM429.18 101.15h0.33V96.26h-0.33ZM429.51 99.07h0.33V82.6h-0.33ZM429.84 88.51h0.33V80.29h-0.33ZM430.17 98.74h0.33V86.4h-0.33ZM430.5 104.46h0.33V91.77h-0.33ZM430.84 101.45h0.33V81.63h-0.33ZM431.17 97.41h0.33V89.71h-0.33ZM431.83 91.1h0.33V86.81h-0.33ZM432.16 90.56h0.33V87.3h-0.33ZM432.49 97.8h0.33V90.31h-0.33ZM432.82 92.5h0.33V80.89h-0.33ZM433.15 102.36h0.33V97.89h-0.33ZM433.48 98.27h0.33V90.19h-0.33ZM433.81 96.16h0.33V90.35h-0.33ZM434.14 90.82h0.33V81.37h-0.33ZM434.48 104.87h0.33V80.35h-0.33ZM434.81 107.12h0.33V93.82h-0.33ZM435.14 93.54h0.33V84.8h-0.33ZM435.47 98.66h0.33V92.99h-0.33ZM437.45 107.16h0.33V80.07h-0.33ZM437.78 99.92h0.33V91.61h-0.33ZM438.11 99.32h0.33V93.86h-0.33ZM438.78 106.69h0.33V82.95h-0.33ZM439.11 107.43h0.33V95.23h-0.33ZM439.44 87.81h0.33V80.46h-0.33ZM439.77 98.11h0.33V93.79h-0.33Z" fill="#38a66b" opacity="0.4"/>
<path d="M417.6 108.5h0.33V92.05h-0.33ZM417.93 108.5h0.33V95.66h-0.33ZM418.26 108.5h0.33V91h-0.33ZM418.59 108.5h0.33V105.21h-0.33ZM418.92 108.5h0.33V102.13h-0.33ZM419.25 108.5h0.33V101.02h-0.33ZM419.59 108.5h0.33V104.11h-0.33ZM419.92 108.5h0.33V95.42h-0.33ZM420.25 108.5h0.33V96.09h-0.33ZM420.58 108.5h0.33V101.64h-0.33ZM420.91 108.5h0.33V94.76h-0.33ZM421.24 108.5h0.33V95.02h-0.33ZM421.57 108.5h0.33V103.45h-0.33ZM421.9 108.5h0.33V105.29h-0.33ZM422.23 108.5h0.33V99.94h-0.33ZM422.56 108.5h0.33V88.28h-0.33ZM422.89 108.5h0.33V91.83h-0.33ZM423.23 108.5h0.33V89.83h-0.33ZM423.56 108.5h0.33V107.53h-0.33ZM423.89 108.5h0.33V92.69h-0.33ZM424.22 108.5h0.33V104.82h-0.33ZM424.55 108.5h0.33V96.71h-0.33ZM424.88 108.5h0.33V85.25h-0.33ZM425.21 108.5h0.33V106.24h-0.33ZM425.54 108.5h0.33V91.23h-0.33ZM426.86 108.5h0.33V97.6h-0.33ZM427.2 108.5h0.33V107.39h-0.33ZM427.53 108.5h0.33V89.96h-0.33ZM427.86 108.5h0.33V89.64h-0.33ZM428.19 108.5h0.33V102.24h-0.33ZM428.52 108.5h0.33V94.53h-0.33ZM428.85 108.5h0.33V105.32h-0.33ZM429.18 108.5h0.33V101.15h-0.33ZM429.51 108.5h0.33V99.07h-0.33ZM429.84 108.5h0.33V88.51h-0.33ZM430.17 108.5h0.33V98.74h-0.33ZM430.5 108.5h0.33V104.46h-0.33ZM430.84 108.5h0.33V101.45h-0.33ZM431.17 108.5h0.33V97.41h-0.33ZM431.5 108.5h0.33V90.12h-0.33ZM431.83 108.5h0.33V91.1h-0.33ZM432.16 108.5h0.33V90.56h-0.33ZM432.49 108.5h0.33V97.8h-0.33ZM432.82 108.5h0.33V92.5h-0.33ZM433.15 108.5h0.33V102.36h-0.33ZM433.48 108.5h0.33V98.27h-0.33ZM433.81 108.5h0.33V96.16h-0.33ZM434.14 108.5h0.33V90.82h-0.33ZM434.48 108.5h0.33V104.87h-0.33ZM434.81 108.5h0.33V107.12h-0.33ZM435.14 108.5h0.33V93.54h-0.33ZM435.47 108.5h0.33V98.66h-0.33ZM436.79 108.5h0.33V91.37h-0.33ZM437.12 108.5h0.33V93.44h-0.33ZM437.45 108.5h0.33V107.16h-0.33ZM437.78 108.5h0.33V99.92h-0.33ZM438.11 108.5h0.33V99.32h-0.33ZM438.45 108.5h0.33V101.63h-0.33ZM438.78 108.5h0.33V106.69h-0.33ZM439.11 108.5h0.33V107.43h-0.33ZM439.44 108.5h0.33V87.81h-0.33ZM439.77 108.5h0.33V98.11h-0.33Z" fill="#38a66b"/>
<line x1="426.4" y1="102" x2="426.4" y2="162.8" stroke="#fff" stroke-width="0.7" opacity="0.5"/>
<line x1="436.3" y1="102" x2="436.3" y2="162.8" stroke="#fff" stroke-width="0.7" opacity="0.5"/>
<rect x="449.2" y="93" width="22.6" height="69.8" fill="#b07ee0"/>
<path d="M449.2 90.68h0.33V84.31h-0.33ZM449.53 85.13h0.33V79.84h-0.33ZM449.86 90.76h0.33V73.55h-0.33ZM450.2 70.36h0.33V68.79h-0.33ZM450.53 85.19h0.33V79.76h-0.33ZM450.86 83.8h0.33V68.34h-0.33ZM451.19 89.09h0.33V71.56h-0.33ZM451.53 73.1h0.33V69.09h-0.33ZM451.86 74.21h0.33V69.79h-0.33ZM452.19 87.96h0.33V66.07h-0.33ZM452.86 77.41h0.33V64.03h-0.33ZM453.19 82.32h0.33V75.45h-0.33ZM453.85 87.39h0.33V65.56h-0.33ZM454.19 78.16h0.33V64.95h-0.33ZM454.52 76.85h0.33V68.4h-0.33ZM456.51 82.01h0.33V75.13h-0.33ZM456.84 72.65h0.33V69.32h-0.33ZM457.18 87.87h0.33V75.11h-0.33ZM458.17 76.62h0.33V65.02h-0.33ZM458.51 75.43h0.33V64.91h-0.33ZM458.84 75.08h0.33V68.59h-0.33ZM459.5 73.33h0.33V70.55h-0.33ZM460.17 69.98h0.33V64.49h-0.33ZM460.5 75.91h0.33V68.71h-0.33ZM461.16 77.3h0.33V68.82h-0.33ZM461.5 77.92h0.33V72.26h-0.33ZM461.83 88.11h0.33V77.34h-0.33ZM462.16 86.21h0.33V80.6h-0.33ZM462.49 90.42h0.33V84.78h-0.33ZM462.83 81.1h0.33V77.26h-0.33ZM463.16 73.16h0.33V67.83h-0.33ZM464.16 77.4h0.33V64.42h-0.33ZM464.82 85.23h0.33V67.24h-0.33ZM465.15 88.91h0.33V77.67h-0.33ZM465.82 71.1h0.33V69.02h-0.33ZM466.15 91.26h0.33V83.25h-0.33ZM466.48 78.62h0.33V67.19h-0.33ZM467.15 87.91h0.33V77.29h-0.33ZM467.48 79.77h0.33V73.26h-0.33ZM467.81 76.95h0.33V74.01h-0.33ZM468.14 89.07h0.33V73.07h-0.33ZM468.48 76.35h0.33V73.15h-0.33ZM468.81 75.91h0.33V65.1h-0.33ZM469.14 91.69h0.33V66.74h-0.33ZM469.47 86.81h0.33V72.37h-0.33ZM469.81 80.23h0.33V71.42h-0.33ZM470.14 86.43h0.33V79.83h-0.33ZM470.47 83.76h0.33V77.29h-0.33ZM470.8 82.65h0.33V64.44h-0.33ZM471.14 82.86h0.33V76.35h-0.33ZM471.47 77.8h0.33V65.78h-0.33Z" fill="#b07ee0" opacity="0.4"/>
<path d="M449.2 93.5h0.33V90.68h-0.33ZM449.53 93.5h0.33V85.13h-0.33ZM449.86 93.5h0.33V90.76h-0.33ZM450.2 93.5h0.33V70.36h-0.33ZM450.53 93.5h0.33V85.19h-0.33ZM450.86 93.5h0.33V83.8h-0.33ZM451.19 93.5h0.33V89.09h-0.33ZM451.53 93.5h0.33V73.1h-0.33ZM451.86 93.5h0.33V74.21h-0.33ZM452.19 93.5h0.33V87.96h-0.33ZM452.52 93.5h0.33V73.29h-0.33ZM452.86 93.5h0.33V77.41h-0.33ZM453.19 93.5h0.33V82.32h-0.33ZM453.52 93.5h0.33V75.48h-0.33ZM453.85 93.5h0.33V87.39h-0.33ZM454.19 93.5h0.33V78.16h-0.33ZM454.52 93.5h0.33V76.85h-0.33ZM455.85 93.5h0.33V77.72h-0.33ZM456.18 93.5h0.33V71.16h-0.33ZM456.51 93.5h0.33V82.01h-0.33ZM456.84 93.5h0.33V72.65h-0.33ZM457.18 93.5h0.33V87.87h-0.33ZM457.51 93.5h0.33V83.48h-0.33ZM457.84 93.5h0.33V82.08h-0.33ZM458.17 93.5h0.33V76.62h-0.33ZM458.51 93.5h0.33V75.43h-0.33ZM458.84 93.5h0.33V75.08h-0.33ZM459.17 93.5h0.33V76.32h-0.33ZM459.5 93.5h0.33V73.33h-0.33ZM459.84 93.5h0.33V80.97h-0.33ZM460.17 93.5h0.33V69.98h-0.33ZM460.5 93.5h0.33V75.91h-0.33ZM460.83 93.5h0.33V75.79h-0.33ZM461.16 93.5h0.33V77.3h-0.33ZM461.5 93.5h0.33V77.92h-0.33ZM461.83 93.5h0.33V88.11h-0.33ZM462.16 93.5h0.33V86.21h-0.33ZM462.49 93.5h0.33V90.42h-0.33ZM462.83 93.5h0.33V81.1h-0.33ZM463.16 93.5h0.33V73.16h-0.33ZM464.16 93.5h0.33V77.4h-0.33ZM464.49 93.5h0.33V83.7h-0.33ZM464.82 93.5h0.33V85.23h-0.33ZM465.15 93.5h0.33V88.91h-0.33ZM465.49 93.5h0.33V71.84h-0.33ZM465.82 93.5h0.33V71.1h-0.33ZM466.15 93.5h0.33V91.26h-0.33ZM466.48 93.5h0.33V78.62h-0.33ZM466.81 93.5h0.33V80.47h-0.33ZM467.15 93.5h0.33V87.91h-0.33ZM467.48 93.5h0.33V79.77h-0.33ZM467.81 93.5h0.33V76.95h-0.33ZM468.14 93.5h0.33V89.07h-0.33ZM468.48 93.5h0.33V76.35h-0.33ZM468.81 93.5h0.33V75.91h-0.33ZM469.14 93.5h0.33V91.69h-0.33ZM469.47 93.5h0.33V86.81h-0.33ZM469.81 93.5h0.33V80.23h-0.33ZM470.14 93.5h0.33V86.43h-0.33ZM470.47 93.5h0.33V83.76h-0.33ZM470.8 93.5h0.33V82.65h-0.33ZM471.14 93.5h0.33V82.86h-0.33ZM471.47 93.5h0.33V77.8h-0.33Z" fill="#b07ee0"/>
<line x1="455.3" y1="87" x2="455.3" y2="162.8" stroke="#fff" stroke-width="0.7" opacity="0.5"/>
<line x1="463.8" y1="87" x2="463.8" y2="162.8" stroke="#fff" stroke-width="0.7" opacity="0.5"/>
<rect x="480.5" y="76" width="22.3" height="86.8" fill="#d69b0c"/>
<path d="M480.5 59.98h0.33V53.75h-0.33ZM481.17 73.14h0.33V65.63h-0.33ZM481.5 58.09h0.33V47.49h-0.33ZM481.83 53.4h0.33V51.29h-0.33ZM482.16 68.48h0.33V63.6h-0.33ZM482.5 55.33h0.33V49.99h-0.33ZM483.16 66.51h0.33V53.22h-0.33ZM483.5 50.6h0.33V49.8h-0.33ZM483.83 69.43h0.33V63.94h-0.33ZM484.49 64.62h0.33V55.84h-0.33ZM484.83 67.69h0.33V52.64h-0.33ZM485.16 73.5h0.33V53.79h-0.33ZM485.49 57.85h0.33V52.74h-0.33ZM485.83 62.87h0.33V57.6h-0.33ZM486.16 65.06h0.33V58.11h-0.33ZM486.49 71.22h0.33V64.28h-0.33ZM486.82 52.98h0.33V48.2h-0.33ZM487.16 61.71h0.33V57.73h-0.33ZM487.49 65.37h0.33V57.9h-0.33ZM487.82 59.85h0.33V48.88h-0.33ZM488.16 71.09h0.33V63.96h-0.33ZM488.82 64.72h0.33V56h-0.33ZM489.49 69.97h0.33V65.17h-0.33ZM490.15 57.16h0.33V50.26h-0.33ZM490.49 68.47h0.33V61.53h-0.33ZM491.48 63.17h0.33V51.65h-0.33ZM491.82 65.09h0.33V60.98h-0.33ZM492.15 57.36h0.33V53.25h-0.33ZM492.48 70.75h0.33V65.6h-0.33ZM492.81 69.79h0.33V59.69h-0.33ZM493.15 59.18h0.33V48.85h-0.33ZM494.15 75.09h0.33V66.13h-0.33ZM494.48 69.25h0.33V58.36h-0.33ZM494.81 70.91h0.33V64.6h-0.33ZM495.14 71.44h0.33V55.69h-0.33ZM495.48 60.67h0.33V57.8h-0.33ZM495.81 65.09h0.33V56.78h-0.33ZM496.14 58.97h0.33V56.34h-0.33ZM496.81 73.82h0.33V68.41h-0.33ZM497.14 71.73h0.33V55.12h-0.33ZM497.47 68.91h0.33V47.18h-0.33ZM497.81 54.29h0.33V52.32h-0.33ZM498.14 71.78h0.33V66.73h-0.33ZM498.81 57.76h0.33V49.83h-0.33ZM499.14 58.32h0.33V51.78h-0.33ZM499.47 73.73h0.33V67.43h-0.33ZM500.8 74.75h0.33V62.84h-0.33ZM501.14 59.06h0.33V54.51h-0.33ZM501.47 66.43h0.33V57.35h-0.33ZM501.8 52.62h0.33V47.48h-0.33ZM502.47 54.32h0.33V48.59h-0.33Z" fill="#d69b0c" opacity="0.4"/>
<path d="M480.5 76.5h0.33V59.98h-0.33ZM480.83 76.5h0.33V69.94h-0.33ZM481.17 76.5h0.33V73.14h-0.33ZM481.5 76.5h0.33V58.09h-0.33ZM481.83 76.5h0.33V53.4h-0.33ZM482.16 76.5h0.33V68.48h-0.33ZM482.5 76.5h0.33V55.33h-0.33ZM482.83 76.5h0.33V58.81h-0.33ZM483.16 76.5h0.33V66.51h-0.33ZM483.5 76.5h0.33V50.6h-0.33ZM483.83 76.5h0.33V69.43h-0.33ZM484.16 76.5h0.33V56.4h-0.33ZM484.49 76.5h0.33V64.62h-0.33ZM484.83 76.5h0.33V67.69h-0.33ZM485.16 76.5h0.33V73.5h-0.33ZM485.49 76.5h0.33V57.85h-0.33ZM485.83 76.5h0.33V62.87h-0.33ZM486.16 76.5h0.33V65.06h-0.33ZM486.49 76.5h0.33V71.22h-0.33ZM486.82 76.5h0.33V52.98h-0.33ZM487.16 76.5h0.33V61.71h-0.33ZM487.49 76.5h0.33V65.37h-0.33ZM487.82 76.5h0.33V59.85h-0.33ZM488.16 76.5h0.33V71.09h-0.33ZM488.49 76.5h0.33V66.93h-0.33ZM488.82 76.5h0.33V64.72h-0.33ZM489.15 76.5h0.33V72.76h-0.33ZM489.49 76.5h0.33V69.97h-0.33ZM489.82 76.5h0.33V66.3h-0.33ZM490.15 76.5h0.33V57.16h-0.33ZM490.49 76.5h0.33V68.47h-0.33ZM491.48 76.5h0.33V63.17h-0.33ZM491.82 76.5h0.33V65.09h-0.33ZM492.15 76.5h0.33V57.36h-0.33ZM492.48 76.5h0.33V70.75h-0.33ZM492.81 76.5h0.33V69.79h-0.33ZM493.15 76.5h0.33V59.18h-0.33ZM493.48 76.5h0.33V64.38h-0.33ZM493.81 76.5h0.33V59.06h-0.33ZM494.15 76.5h0.33V75.09h-0.33ZM494.48 76.5h0.33V69.25h-0.33ZM494.81 76.5h0.33V70.91h-0.33ZM495.14 76.5h0.33V71.44h-0.33ZM495.48 76.5h0.33V60.67h-0.33ZM495.81 76.5h0.33V65.09h-0.33ZM496.14 76.5h0.33V58.97h-0.33ZM496.48 76.5h0.33V70.4h-0.33ZM496.81 76.5h0.33V73.82h-0.33ZM497.14 76.5h0.33V71.73h-0.33ZM497.47 76.5h0.33V68.91h-0.33ZM497.81 76.5h0.33V54.29h-0.33ZM498.14 76.5h0.33V71.78h-0.33ZM498.47 76.5h0.33V74.79h-0.33ZM498.81 76.5h0.33V57.76h-0.33ZM499.14 76.5h0.33V58.32h-0.33ZM499.47 76.5h0.33V73.73h-0.33ZM500.8 76.5h0.33V74.75h-0.33ZM501.14 76.5h0.33V59.06h-0.33ZM501.47 76.5h0.33V66.43h-0.33ZM501.8 76.5h0.33V52.62h-0.33ZM502.13 76.5h0.33V59.26h-0.33ZM502.47 76.5h0.33V54.32h-0.33Z" fill="#d69b0c"/>
<line x1="491.1" y1="70" x2="491.1" y2="162.8" stroke="#fff" stroke-width="0.7" opacity="0.5"/>
<line x1="500.3" y1="70" x2="500.3" y2="162.8" stroke="#fff" stroke-width="0.7" opacity="0.5"/>
<line x1="458.4" y1="37.5" x2="458.4" y2="70" stroke="#b07ee0" stroke-width="0.8" opacity="0.55"/>
<rect x="324.2" y="33.8" width="52.8" height="72.6" fill="#fff" stroke="#a8a8a8" stroke-width="1"/>
<line x1="325.5" y1="40.5" x2="346" y2="40.5" stroke="#cccccc" stroke-width="1.3"/>
<text transform="translate(349.8 43.3)" font-size="8.75" font-weight="bold" text-anchor="start" stroke="#111" stroke-width="0.12">15m/s</text>
<line x1="325.5" y1="52.32" x2="346" y2="52.32" stroke="#f7b0b0" stroke-width="1.3"/>
<text transform="translate(349.8 55.12)" font-size="8.75" font-weight="bold" text-anchor="start" stroke="#111" stroke-width="0.12">17m/s</text>
<line x1="325.5" y1="64.14" x2="346" y2="64.14" stroke="#b0ccf2" stroke-width="1.3"/>
<text transform="translate(349.8 66.94)" font-size="8.75" font-weight="bold" text-anchor="start" stroke="#111" stroke-width="0.12">19m/s</text>
<line x1="325.5" y1="75.96" x2="346" y2="75.96" stroke="#b0e0c6" stroke-width="1.3"/>
<text transform="translate(349.8 78.76)" font-size="8.75" font-weight="bold" text-anchor="start" stroke="#111" stroke-width="0.12">21m/s</text>
<line x1="325.5" y1="87.78" x2="346" y2="87.78" stroke="#ddd0f2" stroke-width="1.3"/>
<text transform="translate(349.8 90.58)" font-size="8.75" font-weight="bold" text-anchor="start" stroke="#111" stroke-width="0.12">23m/s</text>
<line x1="325.5" y1="99.6" x2="346" y2="99.6" stroke="#f2dcb0" stroke-width="1.3"/>
<text transform="translate(349.8 102.4)" font-size="8.75" font-weight="bold" text-anchor="start" stroke="#111" stroke-width="0.12">25m/s</text>
<rect x="316.3" y="24.4" width="191.2" height="154.4" fill="none" stroke="#555" stroke-width="1.1"/>
<path d="M327.2 178.8v-3M327.2 24.4v3M349.76 178.8v-3M349.76 24.4v3M372.32 178.8v-3M372.32 24.4v3M394.88 178.8v-3M394.88 24.4v3M417.44 178.8v-3M417.44 24.4v3M440 178.8v-3M440 24.4v3M462.56 178.8v-3M462.56 24.4v3M485.12 178.8v-3M485.12 24.4v3M507.68 178.8v-3M507.68 24.4v3M338.48 178.8v-1.8M338.48 24.4v1.8M361.04 178.8v-1.8M361.04 24.4v1.8M383.6 178.8v-1.8M383.6 24.4v1.8M406.16 178.8v-1.8M406.16 24.4v1.8M428.72 178.8v-1.8M428.72 24.4v1.8M451.28 178.8v-1.8M451.28 24.4v1.8M473.84 178.8v-1.8M473.84 24.4v1.8M496.4 178.8v-1.8M496.4 24.4v1.8M316.3 179.06h3M507.5 179.06h-3M316.3 163.6h3M507.5 163.6h-3M316.3 148.13h3M507.5 148.13h-3M316.3 132.67h3M507.5 132.67h-3M316.3 117.2h3M507.5 117.2h-3M316.3 101.74h3M507.5 101.74h-3M316.3 86.27h3M507.5 86.27h-3M316.3 70.81h3M507.5 70.81h-3M316.3 55.34h3M507.5 55.34h-3M316.3 39.88h3M507.5 39.88h-3M316.3 24.41h3M507.5 24.41h-3M316.3 171.33h1.8M507.5 171.33h-1.8M316.3 155.87h1.8M507.5 155.87h-1.8M316.3 140.4h1.8M507.5 140.4h-1.8M316.3 124.94h1.8M507.5 124.94h-1.8M316.3 109.47h1.8M507.5 109.47h-1.8M316.3 94.01h1.8M507.5 94.01h-1.8M316.3 78.54h1.8M507.5 78.54h-1.8M316.3 63.08h1.8M507.5 63.08h-1.8M316.3 47.61h1.8M507.5 47.61h-1.8M316.3 32.15h1.8M507.5 32.15h-1.8" stroke="#555" stroke-width="1" fill="none"/>
<text transform="translate(312.5 182.47)" font-size="14.2" font-weight="bold" text-anchor="end" stroke="#111" stroke-width="0.2">-5</text>
<text transform="translate(312.5 167)" font-size="14.2" font-weight="bold" text-anchor="end" stroke="#111" stroke-width="0.2">0</text>
<text transform="translate(312.5 151.53)" font-size="14.2" font-weight="bold" text-anchor="end" stroke="#111" stroke-width="0.2">5</text>
<text transform="translate(312.5 136.07)" font-size="14.2" font-weight="bold" text-anchor="end" stroke="#111" stroke-width="0.2">10</text>
<text transform="translate(312.5 120.61)" font-size="14.2" font-weight="bold" text-anchor="end" stroke="#111" stroke-width="0.2">15</text>
<text transform="translate(312.5 105.14)" font-size="14.2" font-weight="bold" text-anchor="end" stroke="#111" stroke-width="0.2">20</text>
<text transform="translate(312.5 89.67)" font-size="14.2" font-weight="bold" text-anchor="end" stroke="#111" stroke-width="0.2">25</text>
<text transform="translate(312.5 74.21)" font-size="14.2" font-weight="bold" text-anchor="end" stroke="#111" stroke-width="0.2">30</text>
<text transform="translate(312.5 58.74)" font-size="14.2" font-weight="bold" text-anchor="end" stroke="#111" stroke-width="0.2">35</text>
<text transform="translate(312.5 43.28)" font-size="14.2" font-weight="bold" text-anchor="end" stroke="#111" stroke-width="0.2">40</text>
<text transform="translate(312.5 27.81)" font-size="14.2" font-weight="bold" text-anchor="end" stroke="#111" stroke-width="0.2">45</text>
<text transform="translate(327.7 191.7)" font-size="14.2" font-weight="bold" text-anchor="middle" stroke="#111" stroke-width="0.2">0</text>
<text transform="translate(350.26 191.7)" font-size="14.2" font-weight="bold" text-anchor="middle" stroke="#111" stroke-width="0.2">10</text>
<text transform="translate(372.82 191.7)" font-size="14.2" font-weight="bold" text-anchor="middle" stroke="#111" stroke-width="0.2">20</text>
<text transform="translate(395.38 191.7)" font-size="14.2" font-weight="bold" text-anchor="middle" stroke="#111" stroke-width="0.2">30</text>
<text transform="translate(417.94 191.7)" font-size="14.2" font-weight="bold" text-anchor="middle" stroke="#111" stroke-width="0.2">40</text>
<text transform="translate(440.5 191.7)" font-size="14.2" font-weight="bold" text-anchor="middle" stroke="#111" stroke-width="0.2">50</text>
<text transform="translate(463.06 191.7)" font-size="14.2" font-weight="bold" text-anchor="middle" stroke="#111" stroke-width="0.2">60</text>
<text transform="translate(485.62 191.7)" font-size="14.2" font-weight="bold" text-anchor="middle" stroke="#111" stroke-width="0.2">70</text>
<text transform="translate(508.18 191.7)" font-size="14.2" font-weight="bold" text-anchor="middle" stroke="#111" stroke-width="0.2">80</text>
<text transform="translate(411.6 207.8)" font-size="13.6" font-weight="bold" text-anchor="middle" stroke="#111" stroke-width="0.2" textLength="53" lengthAdjust="spacingAndGlyphs">Time (s)</text>
<text transform="translate(286.3 97.55) rotate(-90)" font-size="12.6" font-weight="bold" text-anchor="middle" stroke="#111" stroke-width="0.2" textLength="82.5" lengthAdjust="spacingAndGlyphs">Current (μA)</text>
<text transform="translate(282.2 39.5) scale(1.08 1)" font-size="19.5" font-weight="normal" text-anchor="middle">(b)</text>
<path d="M84.28 324.52V358.71M82.28 324.52h4M82.28 358.71h4M100.46 314V340.3M98.46 314h4M98.46 340.3h4M116.64 311.9V330.31M114.64 311.9h4M114.64 330.31h4M132.82 310.84V327.68M130.82 310.84h4M130.82 327.68h4M149 299.8V311.9M147 299.8h4M147 311.9h4M165.18 287.17V303.48M163.18 287.17h4M163.18 303.48h4M181.36 274.55V302.43M179.36 274.55h4M179.36 302.43h4M197.54 273.5V290.33M195.54 273.5h4M195.54 290.33h4M213.72 256.14V277.71M211.72 256.14h4M211.72 277.71h4M229.9 252.98V269.82M227.9 252.98h4M227.9 269.82h4M246.08 243.52V255.09M244.08 243.52h4M244.08 255.09h4" stroke="#f21a1a" stroke-width="1.5" fill="none"/>
<polyline points="84.28,341.62 100.46,327.15 116.64,321.36 132.82,319.26 149,306.11 165.18,295.59 181.36,288.75 197.54,282.44 213.72,266.66 229.9,261.4 246.08,249.3" stroke="#f21a1a" stroke-width="1.5" fill="none"/>
<line x1="84.28" y1="341.35" x2="246.08" y2="251.14" stroke="#1a1aff" stroke-width="1.7"/>
<rect x="82.68" y="340.01" width="3.2" height="3.2" fill="#111"/>
<rect x="98.86" y="325.55" width="3.2" height="3.2" fill="#111"/>
<rect x="115.04" y="319.76" width="3.2" height="3.2" fill="#111"/>
<rect x="131.22" y="317.66" width="3.2" height="3.2" fill="#111"/>
<rect x="147.4" y="304.51" width="3.2" height="3.2" fill="#111"/>
<rect x="163.58" y="293.99" width="3.2" height="3.2" fill="#111"/>
<rect x="179.76" y="287.15" width="3.2" height="3.2" fill="#111"/>
<rect x="195.94" y="280.84" width="3.2" height="3.2" fill="#111"/>
<rect x="212.12" y="265.06" width="3.2" height="3.2" fill="#111"/>
<rect x="228.3" y="259.8" width="3.2" height="3.2" fill="#111"/>
<rect x="244.48" y="247.7" width="3.2" height="3.2" fill="#111"/>
<rect x="75.7" y="233.3" width="67.9" height="28.8" fill="#fff" stroke="#a8a8a8" stroke-width="1"/>
<line x1="76.8" y1="240.9" x2="102.7" y2="240.9" stroke="#f21a1a" stroke-width="1.6"/>
<rect x="88.35" y="239.5" width="2.8" height="2.8" fill="#111"/>
<text transform="translate(105.9 244.7)" font-size="10.4" font-weight="bold" text-anchor="start" stroke="#111" stroke-width="0.2" textLength="36.6" lengthAdjust="spacingAndGlyphs">Current</text>
<line x1="76.8" y1="254.7" x2="102.7" y2="254.7" stroke="#1a1aff" stroke-width="1.6"/>
<text transform="translate(105.9 258.8)" font-size="10.4" font-weight="bold" text-anchor="start" stroke="#111" stroke-width="0.2" textLength="29.2" lengthAdjust="spacingAndGlyphs">fitting</text>
<rect x="68.1" y="221.6" width="194.2" height="157.9" fill="none" stroke="#555" stroke-width="1.1"/>
<path d="M68.1 379.5v-3M68.1 221.6v3M100.46 379.5v-3M100.46 221.6v3M132.82 379.5v-3M132.82 221.6v3M165.18 379.5v-3M165.18 221.6v3M197.54 379.5v-3M197.54 221.6v3M229.9 379.5v-3M229.9 221.6v3M262.26 379.5v-3M262.26 221.6v3M84.28 379.5v-1.8M84.28 221.6v1.8M116.64 379.5v-1.8M116.64 221.6v1.8M149 379.5v-1.8M149 221.6v1.8M181.36 379.5v-1.8M181.36 221.6v1.8M213.72 379.5v-1.8M213.72 221.6v1.8M246.08 379.5v-1.8M246.08 221.6v1.8M68.1 366h3M262.3 366h-3M68.1 339.7h3M262.3 339.7h-3M68.1 313.4h3M262.3 313.4h-3M68.1 287.1h3M262.3 287.1h-3M68.1 260.8h3M262.3 260.8h-3M68.1 234.5h3M262.3 234.5h-3M68.1 379.15h1.8M262.3 379.15h-1.8M68.1 352.85h1.8M262.3 352.85h-1.8M68.1 326.55h1.8M262.3 326.55h-1.8M68.1 300.25h1.8M262.3 300.25h-1.8M68.1 273.95h1.8M262.3 273.95h-1.8M68.1 247.65h1.8M262.3 247.65h-1.8M68.1 221.35h1.8M262.3 221.35h-1.8" stroke="#555" stroke-width="1" fill="none"/>
<text transform="translate(64.4 369.4)" font-size="14.2" font-weight="bold" text-anchor="end" stroke="#111" stroke-width="0.2">10</text>
<text transform="translate(64.4 343.1)" font-size="14.2" font-weight="bold" text-anchor="end" stroke="#111" stroke-width="0.2">15</text>
<text transform="translate(64.4 316.8)" font-size="14.2" font-weight="bold" text-anchor="end" stroke="#111" stroke-width="0.2">20</text>
<text transform="translate(64.4 290.5)" font-size="14.2" font-weight="bold" text-anchor="end" stroke="#111" stroke-width="0.2">25</text>
<text transform="translate(64.4 264.2)" font-size="14.2" font-weight="bold" text-anchor="end" stroke="#111" stroke-width="0.2">30</text>
<text transform="translate(64.4 237.9)" font-size="14.2" font-weight="bold" text-anchor="end" stroke="#111" stroke-width="0.2">35</text>
<text transform="translate(68.1 392.1)" font-size="14.2" font-weight="bold" text-anchor="middle" stroke="#111" stroke-width="0.2">14</text>
<text transform="translate(100.46 392.1)" font-size="14.2" font-weight="bold" text-anchor="middle" stroke="#111" stroke-width="0.2">16</text>
<text transform="translate(132.82 392.1)" font-size="14.2" font-weight="bold" text-anchor="middle" stroke="#111" stroke-width="0.2">18</text>
<text transform="translate(165.18 392.1)" font-size="14.2" font-weight="bold" text-anchor="middle" stroke="#111" stroke-width="0.2">20</text>
<text transform="translate(197.54 392.1)" font-size="14.2" font-weight="bold" text-anchor="middle" stroke="#111" stroke-width="0.2">22</text>
<text transform="translate(229.9 392.1)" font-size="14.2" font-weight="bold" text-anchor="middle" stroke="#111" stroke-width="0.2">24</text>
<text transform="translate(262.26 392.1)" font-size="14.2" font-weight="bold" text-anchor="middle" stroke="#111" stroke-width="0.2">26</text>
<text transform="translate(165 411.6)" font-size="14.1" font-weight="bold" text-anchor="middle" stroke="#111" stroke-width="0.2" textLength="120.6" lengthAdjust="spacingAndGlyphs">Wind-speed (m/s)</text>
<text transform="translate(36.7 298.2) rotate(-90)" font-size="12.6" font-weight="bold" text-anchor="middle" stroke="#111" stroke-width="0.2" textLength="84.3" lengthAdjust="spacingAndGlyphs">Current (μA)</text>
<text transform="translate(31.85 235.6)" font-size="19.8" font-weight="bold" text-anchor="middle">(c)</text>
<path d="M328.99 347.36V360.62M326.99 347.36h4M326.99 360.62h4M345.48 342.59V354.79M343.48 342.59h4M343.48 354.79h4M361.97 320.85V347.36M359.97 320.85h4M359.97 347.36h4M378.46 317.13V332.51M376.46 317.13h4M376.46 332.51h4M394.95 299.63V326.68M392.95 299.63h4M392.95 326.68h4M411.44 299.63V318.19M409.44 299.63h4M409.44 318.19h4M427.93 295.92V318.19M425.93 295.92h4M425.93 318.19h4M444.42 283.19V299.1M442.42 283.19h4M442.42 299.1h4M460.91 276.83V289.56M458.91 276.83h4M458.91 289.56h4M477.4 260.39V276.83M475.4 260.39h4M475.4 276.83h4M493.89 245.01V267.29M491.89 245.01h4M491.89 267.29h4" stroke="#f21a1a" stroke-width="1.5" fill="none"/>
<polyline points="328.99,354.79 345.48,348.95 361.97,334.1 378.46,325.62 394.95,313.42 411.44,309.18 427.93,307.06 444.42,291.15 460.91,283.19 477.4,268.88 493.89,256.68" stroke="#f21a1a" stroke-width="1.5" fill="none"/>
<line x1="328.99" y1="355.32" x2="493.89" y2="261.98" stroke="#1a1aff" stroke-width="1.7"/>
<rect x="327.39" y="353.19" width="3.2" height="3.2" fill="#111"/>
<rect x="343.88" y="347.35" width="3.2" height="3.2" fill="#111"/>
<rect x="360.37" y="332.5" width="3.2" height="3.2" fill="#111"/>
<rect x="376.86" y="324.02" width="3.2" height="3.2" fill="#111"/>
<rect x="393.35" y="311.82" width="3.2" height="3.2" fill="#111"/>
<rect x="409.84" y="307.58" width="3.2" height="3.2" fill="#111"/>
<rect x="426.33" y="305.46" width="3.2" height="3.2" fill="#111"/>
<rect x="442.82" y="289.55" width="3.2" height="3.2" fill="#111"/>
<rect x="459.31" y="281.59" width="3.2" height="3.2" fill="#111"/>
<rect x="475.8" y="267.28" width="3.2" height="3.2" fill="#111"/>
<rect x="492.29" y="255.08" width="3.2" height="3.2" fill="#111"/>
<rect x="325.8" y="236.1" width="68.8" height="29.5" fill="#fff" stroke="#a8a8a8" stroke-width="1"/>
<line x1="326.5" y1="244.1" x2="353.2" y2="244.1" stroke="#f21a1a" stroke-width="1.6"/>
<rect x="338.45" y="242.7" width="2.8" height="2.8" fill="#111"/>
<text transform="translate(356.4 248)" font-size="10.4" font-weight="bold" text-anchor="start" stroke="#111" stroke-width="0.2" textLength="36.6" lengthAdjust="spacingAndGlyphs">Current</text>
<line x1="326.5" y1="258.4" x2="353.2" y2="258.4" stroke="#1a1aff" stroke-width="1.6"/>
<text transform="translate(356.4 262.1)" font-size="10.4" font-weight="bold" text-anchor="start" stroke="#111" stroke-width="0.2" textLength="29.2" lengthAdjust="spacingAndGlyphs">fitting</text>
<rect x="312.5" y="222.2" width="197.9" height="159.4" fill="none" stroke="#555" stroke-width="1.1"/>
<path d="M312.5 381.6v-3M312.5 222.2v3M345.48 381.6v-3M345.48 222.2v3M378.46 381.6v-3M378.46 222.2v3M411.44 381.6v-3M411.44 222.2v3M444.42 381.6v-3M444.42 222.2v3M477.4 381.6v-3M477.4 222.2v3M510.38 381.6v-3M510.38 222.2v3M328.99 381.6v-1.8M328.99 222.2v1.8M361.97 381.6v-1.8M361.97 222.2v1.8M394.95 381.6v-1.8M394.95 222.2v1.8M427.93 381.6v-1.8M427.93 222.2v1.8M460.91 381.6v-1.8M460.91 222.2v1.8M493.89 381.6v-1.8M493.89 222.2v1.8M312.5 381.3h3M510.4 381.3h-3M312.5 354.79h3M510.4 354.79h-3M312.5 328.27h3M510.4 328.27h-3M312.5 301.75h3M510.4 301.75h-3M312.5 275.24h3M510.4 275.24h-3M312.5 248.73h3M510.4 248.73h-3M312.5 222.21h3M510.4 222.21h-3M312.5 368.04h1.8M510.4 368.04h-1.8M312.5 341.53h1.8M510.4 341.53h-1.8M312.5 315.01h1.8M510.4 315.01h-1.8M312.5 288.5h1.8M510.4 288.5h-1.8M312.5 261.98h1.8M510.4 261.98h-1.8M312.5 235.47h1.8M510.4 235.47h-1.8" stroke="#555" stroke-width="1" fill="none"/>
<text transform="translate(309.5 384.7)" font-size="14.2" font-weight="bold" text-anchor="end" stroke="#111" stroke-width="0.2">10</text>
<text transform="translate(309.5 358.19)" font-size="14.2" font-weight="bold" text-anchor="end" stroke="#111" stroke-width="0.2">15</text>
<text transform="translate(309.5 331.67)" font-size="14.2" font-weight="bold" text-anchor="end" stroke="#111" stroke-width="0.2">20</text>
<text transform="translate(309.5 305.15)" font-size="14.2" font-weight="bold" text-anchor="end" stroke="#111" stroke-width="0.2">25</text>
<text transform="translate(309.5 278.64)" font-size="14.2" font-weight="bold" text-anchor="end" stroke="#111" stroke-width="0.2">30</text>
<text transform="translate(309.5 252.13)" font-size="14.2" font-weight="bold" text-anchor="end" stroke="#111" stroke-width="0.2">35</text>
<text transform="translate(309.5 225.61)" font-size="14.2" font-weight="bold" text-anchor="end" stroke="#111" stroke-width="0.2">40</text>
<text transform="translate(312.5 395)" font-size="14.2" font-weight="bold" text-anchor="middle" stroke="#111" stroke-width="0.2">14</text>
<text transform="translate(345.48 395)" font-size="14.2" font-weight="bold" text-anchor="middle" stroke="#111" stroke-width="0.2">16</text>
<text transform="translate(378.46 395)" font-size="14.2" font-weight="bold" text-anchor="middle" stroke="#111" stroke-width="0.2">18</text>
<text transform="translate(411.44 395)" font-size="14.2" font-weight="bold" text-anchor="middle" stroke="#111" stroke-width="0.2">20</text>
<text transform="translate(444.42 395)" font-size="14.2" font-weight="bold" text-anchor="middle" stroke="#111" stroke-width="0.2">22</text>
<text transform="translate(477.4 395)" font-size="14.2" font-weight="bold" text-anchor="middle" stroke="#111" stroke-width="0.2">24</text>
<text transform="translate(510.38 395)" font-size="14.2" font-weight="bold" text-anchor="middle" stroke="#111" stroke-width="0.2">26</text>
<text transform="translate(411.55 414.9)" font-size="14.1" font-weight="bold" text-anchor="middle" stroke="#111" stroke-width="0.2" textLength="124" lengthAdjust="spacingAndGlyphs">Wind-speed (m/s)</text>
<text transform="translate(281.1 297.85) rotate(-90)" font-size="12.6" font-weight="bold" text-anchor="middle" stroke="#111" stroke-width="0.2" textLength="84" lengthAdjust="spacingAndGlyphs">Current (μA)</text>
<text transform="translate(282.5 238) scale(1.08 1)" font-size="19.5" font-weight="normal" text-anchor="middle">(d)</text>
</svg>
</body></html>
